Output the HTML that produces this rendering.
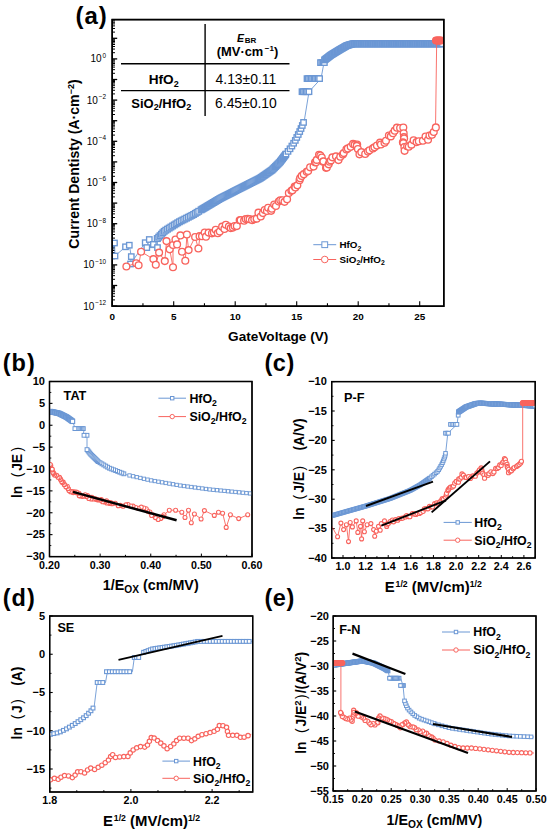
<!DOCTYPE html>
<html><head><meta charset="utf-8"><style>
html,body{margin:0;padding:0;background:#fff;}
svg{display:block;font-family:"Liberation Sans", sans-serif;}
</style></head><body>
<svg width="550" height="835" viewBox="0 0 550 835">
<defs>
<clipPath id="cA"><rect x="112.2" y="19.6" width="331.6" height="286.6"/></clipPath>
<clipPath id="cB"><rect x="49.5" y="381.5" width="202.5" height="175.1"/></clipPath>
<clipPath id="cC"><rect x="331.7" y="381.6" width="203.5" height="176.4"/></clipPath>
<clipPath id="cD"><rect x="49.7" y="616" width="203" height="176"/></clipPath>
<clipPath id="cE"><rect x="333.2" y="616" width="202.8" height="175"/></clipPath>
</defs>
<rect width="550" height="835" fill="#fff"/>
<g>
<rect x="112.2" y="19.6" width="331.6" height="286.6" fill="none" stroke="#000" stroke-width="1.5"/>
<line x1="112.2" y1="306.1" x2="117.2" y2="306.1" stroke="#000" stroke-width="1.3"/>
<line x1="112.2" y1="299.9" x2="115" y2="299.9" stroke="#000" stroke-width="1.0"/>
<line x1="112.2" y1="296.27" x2="115" y2="296.27" stroke="#000" stroke-width="1.0"/>
<line x1="112.2" y1="293.7" x2="115" y2="293.7" stroke="#000" stroke-width="1.0"/>
<line x1="112.2" y1="291.7" x2="115" y2="291.7" stroke="#000" stroke-width="1.0"/>
<line x1="112.2" y1="290.07" x2="115" y2="290.07" stroke="#000" stroke-width="1.0"/>
<line x1="112.2" y1="288.69" x2="115" y2="288.69" stroke="#000" stroke-width="1.0"/>
<line x1="112.2" y1="287.5" x2="115" y2="287.5" stroke="#000" stroke-width="1.0"/>
<line x1="112.2" y1="286.44" x2="115" y2="286.44" stroke="#000" stroke-width="1.0"/>
<line x1="112.2" y1="285.5" x2="117.2" y2="285.5" stroke="#000" stroke-width="1.3"/>
<line x1="112.2" y1="279.3" x2="115" y2="279.3" stroke="#000" stroke-width="1.0"/>
<line x1="112.2" y1="275.67" x2="115" y2="275.67" stroke="#000" stroke-width="1.0"/>
<line x1="112.2" y1="273.1" x2="115" y2="273.1" stroke="#000" stroke-width="1.0"/>
<line x1="112.2" y1="271.1" x2="115" y2="271.1" stroke="#000" stroke-width="1.0"/>
<line x1="112.2" y1="269.47" x2="115" y2="269.47" stroke="#000" stroke-width="1.0"/>
<line x1="112.2" y1="268.09" x2="115" y2="268.09" stroke="#000" stroke-width="1.0"/>
<line x1="112.2" y1="266.9" x2="115" y2="266.9" stroke="#000" stroke-width="1.0"/>
<line x1="112.2" y1="265.84" x2="115" y2="265.84" stroke="#000" stroke-width="1.0"/>
<line x1="112.2" y1="264.9" x2="117.2" y2="264.9" stroke="#000" stroke-width="1.3"/>
<line x1="112.2" y1="258.7" x2="115" y2="258.7" stroke="#000" stroke-width="1.0"/>
<line x1="112.2" y1="255.07" x2="115" y2="255.07" stroke="#000" stroke-width="1.0"/>
<line x1="112.2" y1="252.5" x2="115" y2="252.5" stroke="#000" stroke-width="1.0"/>
<line x1="112.2" y1="250.5" x2="115" y2="250.5" stroke="#000" stroke-width="1.0"/>
<line x1="112.2" y1="248.87" x2="115" y2="248.87" stroke="#000" stroke-width="1.0"/>
<line x1="112.2" y1="247.49" x2="115" y2="247.49" stroke="#000" stroke-width="1.0"/>
<line x1="112.2" y1="246.3" x2="115" y2="246.3" stroke="#000" stroke-width="1.0"/>
<line x1="112.2" y1="245.24" x2="115" y2="245.24" stroke="#000" stroke-width="1.0"/>
<line x1="112.2" y1="244.3" x2="117.2" y2="244.3" stroke="#000" stroke-width="1.3"/>
<line x1="112.2" y1="238.1" x2="115" y2="238.1" stroke="#000" stroke-width="1.0"/>
<line x1="112.2" y1="234.47" x2="115" y2="234.47" stroke="#000" stroke-width="1.0"/>
<line x1="112.2" y1="231.9" x2="115" y2="231.9" stroke="#000" stroke-width="1.0"/>
<line x1="112.2" y1="229.9" x2="115" y2="229.9" stroke="#000" stroke-width="1.0"/>
<line x1="112.2" y1="228.27" x2="115" y2="228.27" stroke="#000" stroke-width="1.0"/>
<line x1="112.2" y1="226.89" x2="115" y2="226.89" stroke="#000" stroke-width="1.0"/>
<line x1="112.2" y1="225.7" x2="115" y2="225.7" stroke="#000" stroke-width="1.0"/>
<line x1="112.2" y1="224.64" x2="115" y2="224.64" stroke="#000" stroke-width="1.0"/>
<line x1="112.2" y1="223.7" x2="117.2" y2="223.7" stroke="#000" stroke-width="1.3"/>
<line x1="112.2" y1="217.5" x2="115" y2="217.5" stroke="#000" stroke-width="1.0"/>
<line x1="112.2" y1="213.87" x2="115" y2="213.87" stroke="#000" stroke-width="1.0"/>
<line x1="112.2" y1="211.3" x2="115" y2="211.3" stroke="#000" stroke-width="1.0"/>
<line x1="112.2" y1="209.3" x2="115" y2="209.3" stroke="#000" stroke-width="1.0"/>
<line x1="112.2" y1="207.67" x2="115" y2="207.67" stroke="#000" stroke-width="1.0"/>
<line x1="112.2" y1="206.29" x2="115" y2="206.29" stroke="#000" stroke-width="1.0"/>
<line x1="112.2" y1="205.1" x2="115" y2="205.1" stroke="#000" stroke-width="1.0"/>
<line x1="112.2" y1="204.04" x2="115" y2="204.04" stroke="#000" stroke-width="1.0"/>
<line x1="112.2" y1="203.1" x2="117.2" y2="203.1" stroke="#000" stroke-width="1.3"/>
<line x1="112.2" y1="196.9" x2="115" y2="196.9" stroke="#000" stroke-width="1.0"/>
<line x1="112.2" y1="193.27" x2="115" y2="193.27" stroke="#000" stroke-width="1.0"/>
<line x1="112.2" y1="190.7" x2="115" y2="190.7" stroke="#000" stroke-width="1.0"/>
<line x1="112.2" y1="188.7" x2="115" y2="188.7" stroke="#000" stroke-width="1.0"/>
<line x1="112.2" y1="187.07" x2="115" y2="187.07" stroke="#000" stroke-width="1.0"/>
<line x1="112.2" y1="185.69" x2="115" y2="185.69" stroke="#000" stroke-width="1.0"/>
<line x1="112.2" y1="184.5" x2="115" y2="184.5" stroke="#000" stroke-width="1.0"/>
<line x1="112.2" y1="183.44" x2="115" y2="183.44" stroke="#000" stroke-width="1.0"/>
<line x1="112.2" y1="182.5" x2="117.2" y2="182.5" stroke="#000" stroke-width="1.3"/>
<line x1="112.2" y1="176.3" x2="115" y2="176.3" stroke="#000" stroke-width="1.0"/>
<line x1="112.2" y1="172.67" x2="115" y2="172.67" stroke="#000" stroke-width="1.0"/>
<line x1="112.2" y1="170.1" x2="115" y2="170.1" stroke="#000" stroke-width="1.0"/>
<line x1="112.2" y1="168.1" x2="115" y2="168.1" stroke="#000" stroke-width="1.0"/>
<line x1="112.2" y1="166.47" x2="115" y2="166.47" stroke="#000" stroke-width="1.0"/>
<line x1="112.2" y1="165.09" x2="115" y2="165.09" stroke="#000" stroke-width="1.0"/>
<line x1="112.2" y1="163.9" x2="115" y2="163.9" stroke="#000" stroke-width="1.0"/>
<line x1="112.2" y1="162.84" x2="115" y2="162.84" stroke="#000" stroke-width="1.0"/>
<line x1="112.2" y1="161.9" x2="117.2" y2="161.9" stroke="#000" stroke-width="1.3"/>
<line x1="112.2" y1="155.7" x2="115" y2="155.7" stroke="#000" stroke-width="1.0"/>
<line x1="112.2" y1="152.07" x2="115" y2="152.07" stroke="#000" stroke-width="1.0"/>
<line x1="112.2" y1="149.5" x2="115" y2="149.5" stroke="#000" stroke-width="1.0"/>
<line x1="112.2" y1="147.5" x2="115" y2="147.5" stroke="#000" stroke-width="1.0"/>
<line x1="112.2" y1="145.87" x2="115" y2="145.87" stroke="#000" stroke-width="1.0"/>
<line x1="112.2" y1="144.49" x2="115" y2="144.49" stroke="#000" stroke-width="1.0"/>
<line x1="112.2" y1="143.3" x2="115" y2="143.3" stroke="#000" stroke-width="1.0"/>
<line x1="112.2" y1="142.24" x2="115" y2="142.24" stroke="#000" stroke-width="1.0"/>
<line x1="112.2" y1="141.3" x2="117.2" y2="141.3" stroke="#000" stroke-width="1.3"/>
<line x1="112.2" y1="135.1" x2="115" y2="135.1" stroke="#000" stroke-width="1.0"/>
<line x1="112.2" y1="131.47" x2="115" y2="131.47" stroke="#000" stroke-width="1.0"/>
<line x1="112.2" y1="128.9" x2="115" y2="128.9" stroke="#000" stroke-width="1.0"/>
<line x1="112.2" y1="126.9" x2="115" y2="126.9" stroke="#000" stroke-width="1.0"/>
<line x1="112.2" y1="125.27" x2="115" y2="125.27" stroke="#000" stroke-width="1.0"/>
<line x1="112.2" y1="123.89" x2="115" y2="123.89" stroke="#000" stroke-width="1.0"/>
<line x1="112.2" y1="122.7" x2="115" y2="122.7" stroke="#000" stroke-width="1.0"/>
<line x1="112.2" y1="121.64" x2="115" y2="121.64" stroke="#000" stroke-width="1.0"/>
<line x1="112.2" y1="120.7" x2="117.2" y2="120.7" stroke="#000" stroke-width="1.3"/>
<line x1="112.2" y1="114.5" x2="115" y2="114.5" stroke="#000" stroke-width="1.0"/>
<line x1="112.2" y1="110.87" x2="115" y2="110.87" stroke="#000" stroke-width="1.0"/>
<line x1="112.2" y1="108.3" x2="115" y2="108.3" stroke="#000" stroke-width="1.0"/>
<line x1="112.2" y1="106.3" x2="115" y2="106.3" stroke="#000" stroke-width="1.0"/>
<line x1="112.2" y1="104.67" x2="115" y2="104.67" stroke="#000" stroke-width="1.0"/>
<line x1="112.2" y1="103.29" x2="115" y2="103.29" stroke="#000" stroke-width="1.0"/>
<line x1="112.2" y1="102.1" x2="115" y2="102.1" stroke="#000" stroke-width="1.0"/>
<line x1="112.2" y1="101.04" x2="115" y2="101.04" stroke="#000" stroke-width="1.0"/>
<line x1="112.2" y1="100.1" x2="117.2" y2="100.1" stroke="#000" stroke-width="1.3"/>
<line x1="112.2" y1="93.9" x2="115" y2="93.9" stroke="#000" stroke-width="1.0"/>
<line x1="112.2" y1="90.27" x2="115" y2="90.27" stroke="#000" stroke-width="1.0"/>
<line x1="112.2" y1="87.7" x2="115" y2="87.7" stroke="#000" stroke-width="1.0"/>
<line x1="112.2" y1="85.7" x2="115" y2="85.7" stroke="#000" stroke-width="1.0"/>
<line x1="112.2" y1="84.07" x2="115" y2="84.07" stroke="#000" stroke-width="1.0"/>
<line x1="112.2" y1="82.69" x2="115" y2="82.69" stroke="#000" stroke-width="1.0"/>
<line x1="112.2" y1="81.5" x2="115" y2="81.5" stroke="#000" stroke-width="1.0"/>
<line x1="112.2" y1="80.44" x2="115" y2="80.44" stroke="#000" stroke-width="1.0"/>
<line x1="112.2" y1="79.5" x2="117.2" y2="79.5" stroke="#000" stroke-width="1.3"/>
<line x1="112.2" y1="73.3" x2="115" y2="73.3" stroke="#000" stroke-width="1.0"/>
<line x1="112.2" y1="69.67" x2="115" y2="69.67" stroke="#000" stroke-width="1.0"/>
<line x1="112.2" y1="67.1" x2="115" y2="67.1" stroke="#000" stroke-width="1.0"/>
<line x1="112.2" y1="65.1" x2="115" y2="65.1" stroke="#000" stroke-width="1.0"/>
<line x1="112.2" y1="63.47" x2="115" y2="63.47" stroke="#000" stroke-width="1.0"/>
<line x1="112.2" y1="62.09" x2="115" y2="62.09" stroke="#000" stroke-width="1.0"/>
<line x1="112.2" y1="60.9" x2="115" y2="60.9" stroke="#000" stroke-width="1.0"/>
<line x1="112.2" y1="59.84" x2="115" y2="59.84" stroke="#000" stroke-width="1.0"/>
<line x1="112.2" y1="58.9" x2="117.2" y2="58.9" stroke="#000" stroke-width="1.3"/>
<line x1="112.2" y1="52.7" x2="115" y2="52.7" stroke="#000" stroke-width="1.0"/>
<line x1="112.2" y1="49.07" x2="115" y2="49.07" stroke="#000" stroke-width="1.0"/>
<line x1="112.2" y1="46.5" x2="115" y2="46.5" stroke="#000" stroke-width="1.0"/>
<line x1="112.2" y1="44.5" x2="115" y2="44.5" stroke="#000" stroke-width="1.0"/>
<line x1="112.2" y1="42.87" x2="115" y2="42.87" stroke="#000" stroke-width="1.0"/>
<line x1="112.2" y1="41.49" x2="115" y2="41.49" stroke="#000" stroke-width="1.0"/>
<line x1="112.2" y1="40.3" x2="115" y2="40.3" stroke="#000" stroke-width="1.0"/>
<line x1="112.2" y1="39.24" x2="115" y2="39.24" stroke="#000" stroke-width="1.0"/>
<line x1="112.2" y1="38.3" x2="117.2" y2="38.3" stroke="#000" stroke-width="1.3"/>
<line x1="112.2" y1="32.1" x2="115" y2="32.1" stroke="#000" stroke-width="1.0"/>
<line x1="112.2" y1="28.47" x2="115" y2="28.47" stroke="#000" stroke-width="1.0"/>
<line x1="112.2" y1="25.9" x2="115" y2="25.9" stroke="#000" stroke-width="1.0"/>
<line x1="112.2" y1="23.9" x2="115" y2="23.9" stroke="#000" stroke-width="1.0"/>
<line x1="112.2" y1="22.27" x2="115" y2="22.27" stroke="#000" stroke-width="1.0"/>
<line x1="112.2" y1="20.89" x2="115" y2="20.89" stroke="#000" stroke-width="1.0"/>
<line x1="112.2" y1="306.2" x2="112.2" y2="301.2" stroke="#000" stroke-width="1.1"/>
<line x1="142.95" y1="306.2" x2="142.95" y2="303.2" stroke="#000" stroke-width="1.1"/>
<line x1="173.7" y1="306.2" x2="173.7" y2="301.2" stroke="#000" stroke-width="1.1"/>
<line x1="204.45" y1="306.2" x2="204.45" y2="303.2" stroke="#000" stroke-width="1.1"/>
<line x1="235.2" y1="306.2" x2="235.2" y2="301.2" stroke="#000" stroke-width="1.1"/>
<line x1="265.95" y1="306.2" x2="265.95" y2="303.2" stroke="#000" stroke-width="1.1"/>
<line x1="296.7" y1="306.2" x2="296.7" y2="301.2" stroke="#000" stroke-width="1.1"/>
<line x1="327.45" y1="306.2" x2="327.45" y2="303.2" stroke="#000" stroke-width="1.1"/>
<line x1="358.2" y1="306.2" x2="358.2" y2="301.2" stroke="#000" stroke-width="1.1"/>
<line x1="388.95" y1="306.2" x2="388.95" y2="303.2" stroke="#000" stroke-width="1.1"/>
<line x1="419.7" y1="306.2" x2="419.7" y2="301.2" stroke="#000" stroke-width="1.1"/>
<text x="112.2" y="320" font-size="9.9" text-anchor="middle" font-weight="bold" >0</text>
<text x="173.7" y="320" font-size="9.9" text-anchor="middle" font-weight="bold" >5</text>
<text x="235.2" y="320" font-size="9.9" text-anchor="middle" font-weight="bold" >10</text>
<text x="296.7" y="320" font-size="9.9" text-anchor="middle" font-weight="bold" >15</text>
<text x="358.2" y="320" font-size="9.9" text-anchor="middle" font-weight="bold" >20</text>
<text x="419.7" y="320" font-size="9.9" text-anchor="middle" font-weight="bold" >25</text>
<text x="106" y="62.4" font-size="10" text-anchor="end" font-weight="normal">10<tspan dy="-4.6" dx="0.8" font-size="6.4">0</tspan></text>
<text x="106" y="103.6" font-size="10" text-anchor="end" font-weight="normal">10<tspan dy="-4.6" dx="0.8" font-size="6.4">&#8722;2</tspan></text>
<text x="106" y="144.8" font-size="10" text-anchor="end" font-weight="normal">10<tspan dy="-4.6" dx="0.8" font-size="6.4">&#8722;4</tspan></text>
<text x="106" y="186" font-size="10" text-anchor="end" font-weight="normal">10<tspan dy="-4.6" dx="0.8" font-size="6.4">&#8722;6</tspan></text>
<text x="106" y="227.2" font-size="10" text-anchor="end" font-weight="normal">10<tspan dy="-4.6" dx="0.8" font-size="6.4">&#8722;8</tspan></text>
<text x="106" y="268.4" font-size="10" text-anchor="end" font-weight="normal">10<tspan dy="-4.6" dx="0.8" font-size="6.4">&#8722;10</tspan></text>
<text x="106" y="309.6" font-size="10" text-anchor="end" font-weight="normal">10<tspan dy="-4.6" dx="0.8" font-size="6.4">&#8722;12</tspan></text>
<text x="278.2" y="340.7" font-size="13.6" text-anchor="middle" font-weight="bold" >GateVoltage (V)</text>
<text transform="translate(78.5,164) rotate(-90)" font-size="14.1" text-anchor="middle" font-weight="bold">Current Dentisty (A&#183;cm<tspan dy="-5" font-size="9">&#8722;2</tspan><tspan dy="5">)</tspan></text>
<text x="75.5" y="24.3" font-size="24" text-anchor="start" font-weight="bold" letter-spacing="1">(a)</text>
<line x1="205.1" y1="24" x2="205.1" y2="116" stroke="#000" stroke-width="1.4"/>
<line x1="121" y1="63.7" x2="289.5" y2="63.7" stroke="#000" stroke-width="1.4"/>
<line x1="121" y1="90.6" x2="289.5" y2="90.6" stroke="#000" stroke-width="1.4"/>
<text x="237" y="41.8" font-size="10.5" font-weight="bold" font-style="italic">E<tspan dy="1.5" dx="0.8" font-size="8" font-style="normal">BR</tspan></text>
<text x="247.5" y="55.6" font-size="12.9" font-weight="bold" text-anchor="middle">(MV&#183;cm<tspan dy="-5" dx="1.5" font-size="8">&#8722;1</tspan><tspan dy="5">)</tspan></text>
<text x="163.7" y="83.9" font-size="13.6" font-weight="bold" text-anchor="middle">HfO<tspan dy="2.8" font-size="9">2</tspan></text>
<text x="161.2" y="107.5" font-size="13" font-weight="bold" text-anchor="middle">SiO<tspan dy="2.8" font-size="9">2</tspan><tspan dy="-2.8">/HfO</tspan><tspan dy="2.8" font-size="9">2</tspan></text>
<text x="245.9" y="83.9" font-size="13.9" text-anchor="middle" font-weight="normal" >4.13&#177;0.11</text>
<text x="245.9" y="108" font-size="13.9" text-anchor="middle" font-weight="normal" >6.45&#177;0.10</text>
</g>
<line x1="313.3" y1="244.7" x2="336.2" y2="244.7" stroke="#6b97d4" stroke-width="1.0"/>
<g fill="#fff" stroke="#6b97d4" stroke-width="1.0"><rect x="321.85" y="241.8" width="5.8" height="5.8"/></g>
<line x1="313.3" y1="259.5" x2="336.2" y2="259.5" stroke="#f8645e" stroke-width="1.0"/>
<g fill="#fff" stroke="#f8645e" stroke-width="1.0"><circle cx="324.75" cy="259.5" r="3.3"/></g>
<text x="339.5" y="248.23" font-size="9.8" font-weight="bold">HfO<tspan dy="2.45" font-size="6.86">2</tspan></text>
<text x="339.5" y="263.03" font-size="9.8" font-weight="bold">SiO<tspan dy="2.45" font-size="6.86">2</tspan><tspan dy="-2.45">/HfO</tspan><tspan dy="2.45" font-size="6.86">2</tspan></text>
<g clip-path="url(#cA)">
<polyline fill="none" stroke="#6b97d4" stroke-width="0.9" points="112.5,250 114.5,243 115,256 125.5,246.8 129.3,245.2 131.3,256.6 130.5,264 145.2,242.7 149.3,239.5 153.4,244.4 146.8,247.6 157.5,247.6 157.3,238.6 157.3,238.6 164.5,231 179,222 193.6,214.5 200,210.5 220,198.6 240,188.4 260,178.3 272,170 280,162 286,154 286,154 291,147.5 295,141 300,131 304.3,120.6"/>
<g fill="#fff" stroke="#6b97d4" stroke-width="1.35"><rect x="111.8" y="240.3" width="5.4" height="5.4"/><rect x="112.3" y="253.3" width="5.4" height="5.4"/><rect x="122.8" y="244.1" width="5.4" height="5.4"/><rect x="126.6" y="242.5" width="5.4" height="5.4"/><rect x="128.6" y="253.9" width="5.4" height="5.4"/><rect x="127.8" y="261.3" width="5.4" height="5.4"/><rect x="142.5" y="240" width="5.4" height="5.4"/><rect x="146.6" y="236.8" width="5.4" height="5.4"/><rect x="150.7" y="241.7" width="5.4" height="5.4"/><rect x="144.1" y="244.9" width="5.4" height="5.4"/><rect x="154.8" y="244.9" width="5.4" height="5.4"/><rect x="154.6" y="235.9" width="5.4" height="5.4"/></g>
<g fill="#fff" stroke="#6b97d4" stroke-width="1.35"><rect x="154.5" y="235.8" width="5.6" height="5.6"/><rect x="155.88" y="234.35" width="5.6" height="5.6"/><rect x="157.25" y="232.9" width="5.6" height="5.6"/><rect x="158.63" y="231.44" width="5.6" height="5.6"/><rect x="160" y="229.99" width="5.6" height="5.6"/><rect x="161.38" y="228.54" width="5.6" height="5.6"/><rect x="163" y="227.39" width="5.6" height="5.6"/><rect x="164.7" y="226.34" width="5.6" height="5.6"/><rect x="166.4" y="225.28" width="5.6" height="5.6"/><rect x="168.1" y="224.23" width="5.6" height="5.6"/><rect x="169.8" y="223.17" width="5.6" height="5.6"/><rect x="171.5" y="222.12" width="5.6" height="5.6"/><rect x="173.2" y="221.06" width="5.6" height="5.6"/><rect x="174.9" y="220.01" width="5.6" height="5.6"/><rect x="176.61" y="218.99" width="5.6" height="5.6"/><rect x="178.39" y="218.07" width="5.6" height="5.6"/><rect x="180.17" y="217.16" width="5.6" height="5.6"/><rect x="181.95" y="216.25" width="5.6" height="5.6"/><rect x="183.73" y="215.33" width="5.6" height="5.6"/><rect x="185.51" y="214.42" width="5.6" height="5.6"/><rect x="187.29" y="213.5" width="5.6" height="5.6"/><rect x="189.07" y="212.59" width="5.6" height="5.6"/><rect x="190.84" y="211.67" width="5.6" height="5.6"/><rect x="192.54" y="210.61" width="5.6" height="5.6"/><rect x="194.24" y="209.55" width="5.6" height="5.6"/><rect x="195.93" y="208.49" width="5.6" height="5.6"/><rect x="198.23" y="207.09" width="5.6" height="5.6"/><rect x="199.26" y="206.47" width="5.6" height="5.6"/><rect x="200.29" y="205.86" width="5.6" height="5.6"/><rect x="201.33" y="205.25" width="5.6" height="5.6"/><rect x="202.36" y="204.63" width="5.6" height="5.6"/><rect x="203.39" y="204.02" width="5.6" height="5.6"/><rect x="204.42" y="203.4" width="5.6" height="5.6"/><rect x="205.45" y="202.79" width="5.6" height="5.6"/><rect x="206.48" y="202.18" width="5.6" height="5.6"/><rect x="207.51" y="201.56" width="5.6" height="5.6"/><rect x="208.54" y="200.95" width="5.6" height="5.6"/><rect x="209.58" y="200.34" width="5.6" height="5.6"/><rect x="210.61" y="199.72" width="5.6" height="5.6"/><rect x="211.64" y="199.11" width="5.6" height="5.6"/><rect x="212.67" y="198.5" width="5.6" height="5.6"/><rect x="213.7" y="197.88" width="5.6" height="5.6"/><rect x="214.73" y="197.27" width="5.6" height="5.6"/><rect x="215.76" y="196.66" width="5.6" height="5.6"/><rect x="216.79" y="196.04" width="5.6" height="5.6"/><rect x="217.85" y="195.47" width="5.6" height="5.6"/><rect x="218.92" y="194.92" width="5.6" height="5.6"/><rect x="219.99" y="194.38" width="5.6" height="5.6"/><rect x="221.06" y="193.83" width="5.6" height="5.6"/><rect x="222.12" y="193.29" width="5.6" height="5.6"/><rect x="223.19" y="192.74" width="5.6" height="5.6"/><rect x="224.26" y="192.2" width="5.6" height="5.6"/><rect x="225.33" y="191.65" width="5.6" height="5.6"/><rect x="226.4" y="191.11" width="5.6" height="5.6"/><rect x="227.47" y="190.56" width="5.6" height="5.6"/><rect x="228.54" y="190.02" width="5.6" height="5.6"/><rect x="229.61" y="189.47" width="5.6" height="5.6"/><rect x="230.68" y="188.93" width="5.6" height="5.6"/><rect x="231.75" y="188.38" width="5.6" height="5.6"/><rect x="232.81" y="187.84" width="5.6" height="5.6"/><rect x="233.88" y="187.29" width="5.6" height="5.6"/><rect x="234.95" y="186.75" width="5.6" height="5.6"/><rect x="236.02" y="186.2" width="5.6" height="5.6"/><rect x="237.09" y="185.66" width="5.6" height="5.6"/><rect x="238.16" y="185.11" width="5.6" height="5.6"/><rect x="239.23" y="184.57" width="5.6" height="5.6"/><rect x="240.3" y="184.03" width="5.6" height="5.6"/><rect x="241.37" y="183.49" width="5.6" height="5.6"/><rect x="242.45" y="182.95" width="5.6" height="5.6"/><rect x="243.52" y="182.41" width="5.6" height="5.6"/><rect x="244.59" y="181.87" width="5.6" height="5.6"/><rect x="245.66" y="181.33" width="5.6" height="5.6"/><rect x="246.73" y="180.79" width="5.6" height="5.6"/><rect x="247.8" y="180.25" width="5.6" height="5.6"/><rect x="248.87" y="179.71" width="5.6" height="5.6"/><rect x="249.94" y="179.16" width="5.6" height="5.6"/><rect x="251.01" y="178.62" width="5.6" height="5.6"/><rect x="252.09" y="178.08" width="5.6" height="5.6"/><rect x="253.16" y="177.54" width="5.6" height="5.6"/><rect x="254.23" y="177" width="5.6" height="5.6"/><rect x="255.3" y="176.46" width="5.6" height="5.6"/><rect x="256.37" y="175.92" width="5.6" height="5.6"/><rect x="257.42" y="175.35" width="5.6" height="5.6"/><rect x="258.41" y="174.66" width="5.6" height="5.6"/><rect x="259.4" y="173.98" width="5.6" height="5.6"/><rect x="260.38" y="173.3" width="5.6" height="5.6"/><rect x="261.37" y="172.62" width="5.6" height="5.6"/><rect x="262.36" y="171.93" width="5.6" height="5.6"/><rect x="263.34" y="171.25" width="5.6" height="5.6"/><rect x="264.33" y="170.57" width="5.6" height="5.6"/><rect x="265.32" y="169.88" width="5.6" height="5.6"/><rect x="266.31" y="169.2" width="5.6" height="5.6"/><rect x="267.29" y="168.52" width="5.6" height="5.6"/><rect x="268.28" y="167.84" width="5.6" height="5.6"/><rect x="269.26" y="167.14" width="5.6" height="5.6"/><rect x="270.11" y="166.29" width="5.6" height="5.6"/><rect x="270.95" y="165.45" width="5.6" height="5.6"/><rect x="271.8" y="164.6" width="5.6" height="5.6"/><rect x="272.65" y="163.75" width="5.6" height="5.6"/><rect x="273.5" y="162.9" width="5.6" height="5.6"/><rect x="274.35" y="162.05" width="5.6" height="5.6"/><rect x="275.2" y="161.2" width="5.6" height="5.6"/><rect x="276.05" y="160.35" width="5.6" height="5.6"/><rect x="276.89" y="159.51" width="5.6" height="5.6"/><rect x="277.66" y="158.59" width="5.6" height="5.6"/><rect x="278.38" y="157.63" width="5.6" height="5.6"/><rect x="279.1" y="156.67" width="5.6" height="5.6"/><rect x="279.82" y="155.71" width="5.6" height="5.6"/><rect x="280.54" y="154.75" width="5.6" height="5.6"/><rect x="281.26" y="153.79" width="5.6" height="5.6"/><rect x="281.98" y="152.83" width="5.6" height="5.6"/><rect x="282.7" y="151.87" width="5.6" height="5.6"/></g>
<g fill="#fff" stroke="#6b97d4" stroke-width="1.35"><rect x="283.3" y="151.3" width="5.4" height="5.4"/><rect x="285.31" y="148.68" width="5.4" height="5.4"/><rect x="287.32" y="146.07" width="5.4" height="5.4"/><rect x="289.19" y="143.35" width="5.4" height="5.4"/><rect x="290.92" y="140.54" width="5.4" height="5.4"/><rect x="292.6" y="137.7" width="5.4" height="5.4"/><rect x="294.07" y="134.75" width="5.4" height="5.4"/><rect x="295.55" y="131.8" width="5.4" height="5.4"/><rect x="297.03" y="128.85" width="5.4" height="5.4"/><rect x="298.33" y="125.82" width="5.4" height="5.4"/><rect x="299.59" y="122.77" width="5.4" height="5.4"/><rect x="300.85" y="119.72" width="5.4" height="5.4"/></g>
<polyline fill="none" stroke="#6b97d4" stroke-width="0.9" points="304.3,120.6 309,91.7 321,78.6 324,62.6"/>
<g fill="#fff" stroke="#6b97d4" stroke-width="1.35"><rect x="299.3" y="89" width="5.4" height="5.4"/><rect x="300.7" y="89" width="5.4" height="5.4"/><rect x="302.1" y="89" width="5.4" height="5.4"/><rect x="303.5" y="89" width="5.4" height="5.4"/><rect x="304.9" y="89" width="5.4" height="5.4"/><rect x="306.3" y="89" width="5.4" height="5.4"/></g>
<g fill="#fff" stroke="#6b97d4" stroke-width="1.35"><rect x="304.3" y="75.9" width="5.4" height="5.4"/><rect x="305.7" y="75.9" width="5.4" height="5.4"/><rect x="307.1" y="75.9" width="5.4" height="5.4"/><rect x="308.5" y="75.9" width="5.4" height="5.4"/><rect x="309.9" y="75.9" width="5.4" height="5.4"/><rect x="311.3" y="75.9" width="5.4" height="5.4"/><rect x="312.7" y="75.9" width="5.4" height="5.4"/><rect x="314.1" y="75.9" width="5.4" height="5.4"/><rect x="315.5" y="75.9" width="5.4" height="5.4"/><rect x="316.9" y="75.9" width="5.4" height="5.4"/></g>
<g fill="#fff" stroke="#6b97d4" stroke-width="1.35"><rect x="317.8" y="59.9" width="5.4" height="5.4"/><rect x="319.1" y="59.9" width="5.4" height="5.4"/><rect x="320.4" y="59.9" width="5.4" height="5.4"/><rect x="321.7" y="59.9" width="5.4" height="5.4"/></g>
<g fill="#fff" stroke="#6b97d4" stroke-width="1.35"><rect x="321.8" y="57.3" width="5.4" height="5.4"/><rect x="322.35" y="56.87" width="5.4" height="5.4"/><rect x="322.91" y="56.45" width="5.4" height="5.4"/><rect x="323.46" y="56.02" width="5.4" height="5.4"/><rect x="324.02" y="55.59" width="5.4" height="5.4"/><rect x="324.57" y="55.17" width="5.4" height="5.4"/><rect x="325.13" y="54.74" width="5.4" height="5.4"/><rect x="325.68" y="54.31" width="5.4" height="5.4"/><rect x="326.24" y="53.89" width="5.4" height="5.4"/><rect x="326.79" y="53.46" width="5.4" height="5.4"/><rect x="327.35" y="53.03" width="5.4" height="5.4"/><rect x="327.9" y="52.61" width="5.4" height="5.4"/><rect x="328.47" y="52.2" width="5.4" height="5.4"/><rect x="329.07" y="51.83" width="5.4" height="5.4"/><rect x="329.66" y="51.47" width="5.4" height="5.4"/><rect x="330.26" y="51.1" width="5.4" height="5.4"/><rect x="330.86" y="50.74" width="5.4" height="5.4"/><rect x="331.46" y="50.37" width="5.4" height="5.4"/><rect x="332.05" y="50.01" width="5.4" height="5.4"/><rect x="332.65" y="49.64" width="5.4" height="5.4"/><rect x="333.25" y="49.28" width="5.4" height="5.4"/><rect x="333.85" y="48.91" width="5.4" height="5.4"/><rect x="334.44" y="48.55" width="5.4" height="5.4"/><rect x="335.04" y="48.18" width="5.4" height="5.4"/><rect x="335.64" y="47.82" width="5.4" height="5.4"/><rect x="336.24" y="47.45" width="5.4" height="5.4"/><rect x="336.83" y="47.09" width="5.4" height="5.4"/><rect x="337.43" y="46.72" width="5.4" height="5.4"/><rect x="338.04" y="46.38" width="5.4" height="5.4"/><rect x="338.65" y="46.03" width="5.4" height="5.4"/><rect x="339.26" y="45.68" width="5.4" height="5.4"/><rect x="339.86" y="45.34" width="5.4" height="5.4"/><rect x="340.47" y="44.99" width="5.4" height="5.4"/><rect x="341.08" y="44.64" width="5.4" height="5.4"/><rect x="341.69" y="44.29" width="5.4" height="5.4"/><rect x="342.29" y="43.95" width="5.4" height="5.4"/><rect x="342.9" y="43.6" width="5.4" height="5.4"/><rect x="343.51" y="43.25" width="5.4" height="5.4"/><rect x="344.12" y="42.9" width="5.4" height="5.4"/><rect x="344.77" y="42.67" width="5.4" height="5.4"/><rect x="345.44" y="42.48" width="5.4" height="5.4"/><rect x="346.12" y="42.28" width="5.4" height="5.4"/><rect x="346.79" y="42.09" width="5.4" height="5.4"/><rect x="347.47" y="41.9" width="5.4" height="5.4"/><rect x="348.14" y="41.71" width="5.4" height="5.4"/><rect x="348.81" y="41.52" width="5.4" height="5.4"/><rect x="349.49" y="41.33" width="5.4" height="5.4"/><rect x="350.16" y="41.14" width="5.4" height="5.4"/><rect x="350.85" y="41.1" width="5.4" height="5.4"/><rect x="351.55" y="41.1" width="5.4" height="5.4"/><rect x="352.25" y="41.1" width="5.4" height="5.4"/><rect x="352.95" y="41.1" width="5.4" height="5.4"/><rect x="353.65" y="41.1" width="5.4" height="5.4"/><rect x="354.35" y="41.1" width="5.4" height="5.4"/><rect x="355.05" y="41.1" width="5.4" height="5.4"/><rect x="355.75" y="41.1" width="5.4" height="5.4"/><rect x="356.45" y="41.1" width="5.4" height="5.4"/><rect x="357.15" y="41.1" width="5.4" height="5.4"/><rect x="357.85" y="41.1" width="5.4" height="5.4"/><rect x="358.55" y="41.1" width="5.4" height="5.4"/><rect x="359.25" y="41.1" width="5.4" height="5.4"/><rect x="359.95" y="41.1" width="5.4" height="5.4"/><rect x="360.65" y="41.1" width="5.4" height="5.4"/><rect x="361.35" y="41.1" width="5.4" height="5.4"/><rect x="362.05" y="41.1" width="5.4" height="5.4"/><rect x="362.75" y="41.1" width="5.4" height="5.4"/><rect x="363.45" y="41.1" width="5.4" height="5.4"/><rect x="364.15" y="41.1" width="5.4" height="5.4"/><rect x="364.85" y="41.1" width="5.4" height="5.4"/><rect x="365.55" y="41.1" width="5.4" height="5.4"/><rect x="366.25" y="41.1" width="5.4" height="5.4"/><rect x="366.95" y="41.1" width="5.4" height="5.4"/><rect x="367.65" y="41.1" width="5.4" height="5.4"/><rect x="368.35" y="41.1" width="5.4" height="5.4"/><rect x="369.05" y="41.1" width="5.4" height="5.4"/><rect x="369.75" y="41.1" width="5.4" height="5.4"/><rect x="370.45" y="41.1" width="5.4" height="5.4"/><rect x="371.15" y="41.1" width="5.4" height="5.4"/><rect x="371.85" y="41.1" width="5.4" height="5.4"/><rect x="372.55" y="41.1" width="5.4" height="5.4"/><rect x="373.25" y="41.1" width="5.4" height="5.4"/><rect x="373.95" y="41.1" width="5.4" height="5.4"/><rect x="374.65" y="41.1" width="5.4" height="5.4"/><rect x="375.35" y="41.1" width="5.4" height="5.4"/><rect x="376.05" y="41.1" width="5.4" height="5.4"/><rect x="376.75" y="41.1" width="5.4" height="5.4"/><rect x="377.45" y="41.1" width="5.4" height="5.4"/><rect x="378.15" y="41.1" width="5.4" height="5.4"/><rect x="378.85" y="41.1" width="5.4" height="5.4"/><rect x="379.55" y="41.1" width="5.4" height="5.4"/><rect x="380.25" y="41.1" width="5.4" height="5.4"/><rect x="380.95" y="41.1" width="5.4" height="5.4"/><rect x="381.65" y="41.1" width="5.4" height="5.4"/><rect x="382.35" y="41.1" width="5.4" height="5.4"/><rect x="383.05" y="41.1" width="5.4" height="5.4"/><rect x="383.75" y="41.1" width="5.4" height="5.4"/><rect x="384.45" y="41.1" width="5.4" height="5.4"/><rect x="385.15" y="41.1" width="5.4" height="5.4"/><rect x="385.85" y="41.1" width="5.4" height="5.4"/><rect x="386.55" y="41.1" width="5.4" height="5.4"/><rect x="387.25" y="41.1" width="5.4" height="5.4"/><rect x="387.95" y="41.1" width="5.4" height="5.4"/><rect x="388.65" y="41.1" width="5.4" height="5.4"/><rect x="389.35" y="41.1" width="5.4" height="5.4"/><rect x="390.05" y="41.1" width="5.4" height="5.4"/><rect x="390.75" y="41.1" width="5.4" height="5.4"/><rect x="391.45" y="41.1" width="5.4" height="5.4"/><rect x="392.15" y="41.1" width="5.4" height="5.4"/><rect x="392.85" y="41.1" width="5.4" height="5.4"/><rect x="393.55" y="41.1" width="5.4" height="5.4"/><rect x="394.25" y="41.1" width="5.4" height="5.4"/><rect x="394.95" y="41.1" width="5.4" height="5.4"/><rect x="395.65" y="41.1" width="5.4" height="5.4"/><rect x="396.35" y="41.1" width="5.4" height="5.4"/><rect x="397.05" y="41.1" width="5.4" height="5.4"/><rect x="397.75" y="41.1" width="5.4" height="5.4"/><rect x="398.45" y="41.1" width="5.4" height="5.4"/><rect x="399.15" y="41.1" width="5.4" height="5.4"/><rect x="399.85" y="41.1" width="5.4" height="5.4"/><rect x="400.55" y="41.1" width="5.4" height="5.4"/><rect x="401.25" y="41.1" width="5.4" height="5.4"/><rect x="401.95" y="41.1" width="5.4" height="5.4"/><rect x="402.65" y="41.1" width="5.4" height="5.4"/><rect x="403.35" y="41.1" width="5.4" height="5.4"/><rect x="404.05" y="41.1" width="5.4" height="5.4"/><rect x="404.75" y="41.1" width="5.4" height="5.4"/><rect x="405.45" y="41.1" width="5.4" height="5.4"/><rect x="406.15" y="41.1" width="5.4" height="5.4"/><rect x="406.85" y="41.1" width="5.4" height="5.4"/><rect x="407.55" y="41.1" width="5.4" height="5.4"/><rect x="408.25" y="41.1" width="5.4" height="5.4"/><rect x="408.95" y="41.1" width="5.4" height="5.4"/><rect x="409.65" y="41.1" width="5.4" height="5.4"/><rect x="410.35" y="41.1" width="5.4" height="5.4"/><rect x="411.05" y="41.1" width="5.4" height="5.4"/><rect x="411.75" y="41.1" width="5.4" height="5.4"/><rect x="412.45" y="41.1" width="5.4" height="5.4"/><rect x="413.15" y="41.1" width="5.4" height="5.4"/><rect x="413.85" y="41.1" width="5.4" height="5.4"/><rect x="414.55" y="41.1" width="5.4" height="5.4"/><rect x="415.25" y="41.1" width="5.4" height="5.4"/><rect x="415.95" y="41.1" width="5.4" height="5.4"/><rect x="416.65" y="41.1" width="5.4" height="5.4"/><rect x="417.35" y="41.1" width="5.4" height="5.4"/><rect x="418.05" y="41.1" width="5.4" height="5.4"/><rect x="418.75" y="41.1" width="5.4" height="5.4"/><rect x="419.45" y="41.1" width="5.4" height="5.4"/><rect x="420.15" y="41.1" width="5.4" height="5.4"/><rect x="420.85" y="41.1" width="5.4" height="5.4"/><rect x="421.55" y="41.1" width="5.4" height="5.4"/><rect x="422.25" y="41.1" width="5.4" height="5.4"/><rect x="422.95" y="41.1" width="5.4" height="5.4"/><rect x="423.65" y="41.1" width="5.4" height="5.4"/><rect x="424.35" y="41.1" width="5.4" height="5.4"/><rect x="425.05" y="41.1" width="5.4" height="5.4"/><rect x="425.75" y="41.1" width="5.4" height="5.4"/><rect x="426.45" y="41.1" width="5.4" height="5.4"/><rect x="427.15" y="41.1" width="5.4" height="5.4"/><rect x="427.85" y="41.1" width="5.4" height="5.4"/><rect x="428.55" y="41.1" width="5.4" height="5.4"/><rect x="429.25" y="41.1" width="5.4" height="5.4"/><rect x="429.95" y="41.1" width="5.4" height="5.4"/><rect x="430.65" y="41.1" width="5.4" height="5.4"/><rect x="431.35" y="41.1" width="5.4" height="5.4"/><rect x="432.05" y="41.1" width="5.4" height="5.4"/><rect x="432.75" y="41.1" width="5.4" height="5.4"/><rect x="433.45" y="41.1" width="5.4" height="5.4"/><rect x="434.15" y="41.1" width="5.4" height="5.4"/><rect x="434.85" y="41.1" width="5.4" height="5.4"/><rect x="435.55" y="41.1" width="5.4" height="5.4"/><rect x="436.25" y="41.1" width="5.4" height="5.4"/><rect x="436.95" y="41.1" width="5.4" height="5.4"/><rect x="437.65" y="41.1" width="5.4" height="5.4"/><rect x="438.35" y="41.1" width="5.4" height="5.4"/><rect x="439.05" y="41.1" width="5.4" height="5.4"/><rect x="439.75" y="41.1" width="5.4" height="5.4"/></g>
<polyline fill="none" stroke="#f8645e" stroke-width="0.9" points="126.4,266.5 136.2,263.2 138.6,265.3 141.1,251.7 153.4,259.1 155.8,264.8 159.1,252.6 164.8,261.1 166.5,241.1 169.7,249.3 173,267.3 173,245 175.5,239.5 180.4,235.4 177.1,244.4 182,251.7 185.3,260.7 186.9,234.5 188.6,250.1 195.1,237 198.4,248.5 200,236"/>
<g fill="#fff" stroke="#f8645e" stroke-width="1.35"><circle cx="126.4" cy="266.5" r="3.4"/><circle cx="136.2" cy="263.2" r="3.4"/><circle cx="138.6" cy="265.3" r="3.4"/><circle cx="141.1" cy="251.7" r="3.4"/><circle cx="153.4" cy="259.1" r="3.4"/><circle cx="155.8" cy="264.8" r="3.4"/><circle cx="159.1" cy="252.6" r="3.4"/><circle cx="164.8" cy="261.1" r="3.4"/><circle cx="166.5" cy="241.1" r="3.4"/><circle cx="169.7" cy="249.3" r="3.4"/><circle cx="173" cy="267.3" r="3.4"/><circle cx="173" cy="245" r="3.4"/><circle cx="175.5" cy="239.5" r="3.4"/><circle cx="180.4" cy="235.4" r="3.4"/><circle cx="177.1" cy="244.4" r="3.4"/><circle cx="182" cy="251.7" r="3.4"/><circle cx="185.3" cy="260.7" r="3.4"/><circle cx="186.9" cy="234.5" r="3.4"/><circle cx="188.6" cy="250.1" r="3.4"/><circle cx="195.1" cy="237" r="3.4"/><circle cx="198.4" cy="248.5" r="3.4"/><circle cx="200" cy="236" r="3.4"/></g>
<polyline fill="none" stroke="#f8645e" stroke-width="0.9" points="200,236 210,234 230,226 250,218.6 270,209 285,199 291.5,192.7 297.3,184 301.6,175.3 308.9,169.5 314.7,165 319.8,154.9 323.5,162.2 327.1,168 332.2,157.8 339.5,159.3 345.3,152 351.1,146.2 356.2,143.3 358.4,152.7 364.2,153.5 370,151.3 373.7,148.5 382.5,141.9 389.7,135.4 398.5,128.8 402.8,129.5 404.3,149.2 408.6,145.5 414.5,141.2 420.3,139.7 427.5,138.3 431.9,135.4 435.5,129.5 436.7,40.5"/>
<g fill="#fff" stroke="#f8645e" stroke-width="1.35"><circle cx="199.58" cy="236.27" r="3.4"/><circle cx="202.05" cy="236.17" r="3.4"/><circle cx="204.71" cy="232.49" r="3.4"/><circle cx="205.99" cy="236.67" r="3.4"/><circle cx="208.64" cy="232.6" r="3.4"/><circle cx="212" cy="233.34" r="3.4"/><circle cx="213.88" cy="232.52" r="3.4"/><circle cx="215.7" cy="229.71" r="3.4"/><circle cx="217.83" cy="233.16" r="3.4"/><circle cx="219.79" cy="231.55" r="3.4"/><circle cx="222.16" cy="226.63" r="3.4"/><circle cx="224.43" cy="228.94" r="3.4"/><circle cx="225.84" cy="224.72" r="3.4"/><circle cx="228.88" cy="226.52" r="3.4"/><circle cx="230.78" cy="228.11" r="3.4"/><circle cx="232.93" cy="227.57" r="3.4"/><circle cx="234.58" cy="226.05" r="3.4"/><circle cx="236.82" cy="226.06" r="3.4"/><circle cx="239.67" cy="220.23" r="3.4"/><circle cx="240.64" cy="220.15" r="3.4"/><circle cx="244.12" cy="220.67" r="3.4"/><circle cx="245.73" cy="219.06" r="3.4"/><circle cx="247.7" cy="218.77" r="3.4"/><circle cx="249.61" cy="219.17" r="3.4"/><circle cx="252.06" cy="220.1" r="3.4"/><circle cx="254.29" cy="219.25" r="3.4"/><circle cx="256.64" cy="218.63" r="3.4"/><circle cx="258.42" cy="212.67" r="3.4"/><circle cx="260.8" cy="216.48" r="3.4"/><circle cx="262.94" cy="213.11" r="3.4"/><circle cx="264.71" cy="209.97" r="3.4"/><circle cx="266.97" cy="211.04" r="3.4"/><circle cx="268.17" cy="207.75" r="3.4"/><circle cx="271.11" cy="210.84" r="3.4"/><circle cx="271.8" cy="208.72" r="3.4"/><circle cx="274.23" cy="204.52" r="3.4"/><circle cx="275.95" cy="206.02" r="3.4"/><circle cx="278.79" cy="201.48" r="3.4"/><circle cx="280.29" cy="200.21" r="3.4"/><circle cx="282.37" cy="200.22" r="3.4"/><circle cx="284.55" cy="201.87" r="3.4"/><circle cx="287.09" cy="199.22" r="3.4"/><circle cx="288.86" cy="193.06" r="3.4"/><circle cx="291.41" cy="190.84" r="3.4"/><circle cx="292.43" cy="190.17" r="3.4"/><circle cx="294.7" cy="186.62" r="3.4"/><circle cx="295.4" cy="187.41" r="3.4"/><circle cx="297.35" cy="185.35" r="3.4"/><circle cx="299.57" cy="180.14" r="3.4"/><circle cx="300.16" cy="178.18" r="3.4"/><circle cx="301.74" cy="175.92" r="3.4"/><circle cx="303.8" cy="174.17" r="3.4"/><circle cx="306.68" cy="171.86" r="3.4"/><circle cx="308.14" cy="171.01" r="3.4"/><circle cx="310.11" cy="167.34" r="3.4"/><circle cx="313.59" cy="166.55" r="3.4"/><circle cx="315.01" cy="162.34" r="3.4"/><circle cx="316.11" cy="162.3" r="3.4"/><circle cx="316.78" cy="159.88" r="3.4"/><circle cx="319.07" cy="154.79" r="3.4"/><circle cx="320.37" cy="155.47" r="3.4"/><circle cx="321.76" cy="157.54" r="3.4"/><circle cx="323.12" cy="161.87" r="3.4"/><circle cx="323.43" cy="161.35" r="3.4"/><circle cx="326.01" cy="167.87" r="3.4"/><circle cx="326.83" cy="167.54" r="3.4"/><circle cx="328.68" cy="164.33" r="3.4"/><circle cx="329.61" cy="161.7" r="3.4"/><circle cx="330.91" cy="160.38" r="3.4"/><circle cx="332.36" cy="157.35" r="3.4"/><circle cx="335.96" cy="156.35" r="3.4"/><circle cx="338.48" cy="160.12" r="3.4"/><circle cx="340.28" cy="156.69" r="3.4"/><circle cx="342.87" cy="154.49" r="3.4"/><circle cx="343.69" cy="153.1" r="3.4"/><circle cx="346.41" cy="149.42" r="3.4"/><circle cx="347.86" cy="148.41" r="3.4"/><circle cx="350.72" cy="146.83" r="3.4"/><circle cx="353.07" cy="143.91" r="3.4"/><circle cx="354.76" cy="144.64" r="3.4"/><circle cx="357.17" cy="144.59" r="3.4"/><circle cx="356.77" cy="145.93" r="3.4"/><circle cx="357.92" cy="149.06" r="3.4"/><circle cx="359.48" cy="154.3" r="3.4"/><circle cx="361.36" cy="152.18" r="3.4"/><circle cx="365.2" cy="153.95" r="3.4"/><circle cx="367.91" cy="151.58" r="3.4"/><circle cx="369.52" cy="150.28" r="3.4"/><circle cx="372.89" cy="148.44" r="3.4"/><circle cx="374.49" cy="147.35" r="3.4"/><circle cx="376.93" cy="145.58" r="3.4"/><circle cx="380.05" cy="142.69" r="3.4"/><circle cx="380.9" cy="144.5" r="3.4"/><circle cx="384.52" cy="142.82" r="3.4"/><circle cx="385.95" cy="140.71" r="3.4"/><circle cx="388.9" cy="135.49" r="3.4"/><circle cx="390.81" cy="136.38" r="3.4"/><circle cx="393" cy="133.21" r="3.4"/><circle cx="394.72" cy="130.67" r="3.4"/><circle cx="396.94" cy="127.7" r="3.4"/><circle cx="400.12" cy="128.08" r="3.4"/><circle cx="403.3" cy="127.49" r="3.4"/><circle cx="403.67" cy="133.3" r="3.4"/><circle cx="403.92" cy="137.11" r="3.4"/><circle cx="404.1" cy="138.56" r="3.4"/><circle cx="402.9" cy="142.21" r="3.4"/><circle cx="403.38" cy="143.1" r="3.4"/><circle cx="404.38" cy="147" r="3.4"/><circle cx="404.6" cy="150.8" r="3.4"/><circle cx="407.12" cy="146.21" r="3.4"/><circle cx="408.78" cy="146.71" r="3.4"/><circle cx="411.48" cy="144.64" r="3.4"/><circle cx="413.62" cy="140.3" r="3.4"/><circle cx="416.6" cy="142.1" r="3.4"/><circle cx="418.82" cy="141.26" r="3.4"/><circle cx="422.86" cy="140.71" r="3.4"/><circle cx="425.55" cy="136.56" r="3.4"/><circle cx="428.03" cy="139.72" r="3.4"/><circle cx="429.52" cy="135.46" r="3.4"/><circle cx="432.01" cy="134.74" r="3.4"/><circle cx="433.76" cy="132.02" r="3.4"/><circle cx="435.84" cy="127.43" r="3.4"/></g>
<g fill="#f8645e" stroke="#f8645e" stroke-width="1.35"><circle cx="436" cy="40.5" r="3.4"/><circle cx="437" cy="40.5" r="3.4"/><circle cx="438" cy="40.5" r="3.4"/><circle cx="439" cy="40.5" r="3.4"/><circle cx="440" cy="40.5" r="3.4"/><circle cx="441" cy="40.5" r="3.4"/></g>
</g>
<rect x="112.2" y="19.6" width="331.6" height="286.6" fill="none" stroke="#000" stroke-width="1.5"/>
<rect x="49.5" y="381.5" width="202.5" height="175.1" fill="none" stroke="#000" stroke-width="1.3"/>
<line x1="49.5" y1="556.5" x2="52.5" y2="556.5" stroke="#000" stroke-width="1.1"/>
<line x1="49.5" y1="545.56" x2="51.3" y2="545.56" stroke="#000" stroke-width="0.9"/>
<text x="45" y="560.3" font-size="11" text-anchor="end" font-weight="bold" >&#8722;30</text>
<line x1="49.5" y1="534.62" x2="52.5" y2="534.62" stroke="#000" stroke-width="1.1"/>
<line x1="49.5" y1="523.69" x2="51.3" y2="523.69" stroke="#000" stroke-width="0.9"/>
<text x="45" y="538.42" font-size="11" text-anchor="end" font-weight="bold" >&#8722;25</text>
<line x1="49.5" y1="512.75" x2="52.5" y2="512.75" stroke="#000" stroke-width="1.1"/>
<line x1="49.5" y1="501.81" x2="51.3" y2="501.81" stroke="#000" stroke-width="0.9"/>
<text x="45" y="516.55" font-size="11" text-anchor="end" font-weight="bold" >&#8722;20</text>
<line x1="49.5" y1="490.88" x2="52.5" y2="490.88" stroke="#000" stroke-width="1.1"/>
<line x1="49.5" y1="479.94" x2="51.3" y2="479.94" stroke="#000" stroke-width="0.9"/>
<text x="45" y="494.68" font-size="11" text-anchor="end" font-weight="bold" >&#8722;15</text>
<line x1="49.5" y1="469" x2="52.5" y2="469" stroke="#000" stroke-width="1.1"/>
<line x1="49.5" y1="458.06" x2="51.3" y2="458.06" stroke="#000" stroke-width="0.9"/>
<text x="45" y="472.8" font-size="11" text-anchor="end" font-weight="bold" >&#8722;10</text>
<line x1="49.5" y1="447.12" x2="52.5" y2="447.12" stroke="#000" stroke-width="1.1"/>
<line x1="49.5" y1="436.19" x2="51.3" y2="436.19" stroke="#000" stroke-width="0.9"/>
<text x="45" y="450.93" font-size="11" text-anchor="end" font-weight="bold" >&#8722;5</text>
<line x1="49.5" y1="425.25" x2="52.5" y2="425.25" stroke="#000" stroke-width="1.1"/>
<line x1="49.5" y1="414.31" x2="51.3" y2="414.31" stroke="#000" stroke-width="0.9"/>
<text x="45" y="429.05" font-size="11" text-anchor="end" font-weight="bold" >0</text>
<line x1="49.5" y1="403.38" x2="52.5" y2="403.38" stroke="#000" stroke-width="1.1"/>
<line x1="49.5" y1="392.44" x2="51.3" y2="392.44" stroke="#000" stroke-width="0.9"/>
<text x="45" y="407.18" font-size="11" text-anchor="end" font-weight="bold" >5</text>
<line x1="49.5" y1="381.5" x2="52.5" y2="381.5" stroke="#000" stroke-width="1.1"/>
<text x="45" y="385.3" font-size="11" text-anchor="end" font-weight="bold" >10</text>
<line x1="49.5" y1="556.6" x2="49.5" y2="553.6" stroke="#000" stroke-width="1.0"/>
<line x1="74.81" y1="556.6" x2="74.81" y2="554.8" stroke="#000" stroke-width="1.0"/>
<line x1="100.13" y1="556.6" x2="100.13" y2="553.6" stroke="#000" stroke-width="1.0"/>
<line x1="125.44" y1="556.6" x2="125.44" y2="554.8" stroke="#000" stroke-width="1.0"/>
<line x1="150.75" y1="556.6" x2="150.75" y2="553.6" stroke="#000" stroke-width="1.0"/>
<line x1="176.06" y1="556.6" x2="176.06" y2="554.8" stroke="#000" stroke-width="1.0"/>
<line x1="201.38" y1="556.6" x2="201.38" y2="553.6" stroke="#000" stroke-width="1.0"/>
<line x1="226.69" y1="556.6" x2="226.69" y2="554.8" stroke="#000" stroke-width="1.0"/>
<line x1="252" y1="556.6" x2="252" y2="553.6" stroke="#000" stroke-width="1.0"/>
<text x="49.5" y="569.4" font-size="10.7" text-anchor="middle" font-weight="bold" >0.20</text>
<text x="100.12" y="569.4" font-size="10.7" text-anchor="middle" font-weight="bold" >0.30</text>
<text x="150.75" y="569.4" font-size="10.7" text-anchor="middle" font-weight="bold" >0.40</text>
<text x="201.38" y="569.4" font-size="10.7" text-anchor="middle" font-weight="bold" >0.50</text>
<text x="252" y="569.4" font-size="10.7" text-anchor="middle" font-weight="bold" >0.60</text>
<text x="2.8" y="370.6" font-size="23.5" text-anchor="start" font-weight="bold" letter-spacing="1">(b)</text>
<text x="63.6" y="400.3" font-size="12.7" text-anchor="start" font-weight="bold" >TAT</text>
<text x="150.75" y="590.1" font-size="14.3" font-weight="bold" text-anchor="middle">1/E<tspan dy="3.2" font-size="10.2">OX</tspan><tspan dy="-3.2"> (cm/MV)</tspan></text>
<text transform="translate(21.7,498) rotate(-90)" font-size="13.8" font-weight="bold">ln<tspan dx="8.5" font-weight="normal">(</tspan><tspan dx="1.8">JE</tspan><tspan dx="2.5" font-weight="normal">)</tspan></text>
<line x1="158.4" y1="398.2" x2="186" y2="398.2" stroke="#6b97d4" stroke-width="1.0"/>
<g fill="#fff" stroke="#6b97d4" stroke-width="1.0"><rect x="170.5" y="396.5" width="3.4" height="3.4"/></g>
<line x1="158.4" y1="416.6" x2="186" y2="416.6" stroke="#f8645e" stroke-width="1.0"/>
<g fill="#fff" stroke="#f8645e" stroke-width="1.0"><circle cx="172.2" cy="416.6" r="2.2"/></g>
<text x="189.4" y="402.66" font-size="12.4" font-weight="bold">HfO<tspan dy="3.1" font-size="8.68">2</tspan></text>
<text x="189.4" y="421.06" font-size="12.4" font-weight="bold">SiO<tspan dy="3.1" font-size="8.68">2</tspan><tspan dy="-3.1">/HfO</tspan><tspan dy="3.1" font-size="8.68">2</tspan></text>
<g clip-path="url(#cB)">
<polyline fill="none" stroke="#6b97d4" stroke-width="0.9" points="50.5,411.5 59.1,413.4 66.6,417.1 73,421.7 74.9,428.6 84.2,428.6 83.2,435.3 87,435.3 87,449.6 90.7,454.2 98.1,461.6 109.2,468.1 125.9,474.6 150,480.2 180,485.5 210,489.5 250.9,493.5"/>
<g fill="#fff" stroke="#6b97d4" stroke-width="0.9"><rect x="248.49" y="491.78" width="3.3" height="3.3"/><rect x="244.8" y="491.42" width="3.3" height="3.3"/><rect x="241.12" y="491.06" width="3.3" height="3.3"/><rect x="237.44" y="490.69" width="3.3" height="3.3"/><rect x="233.76" y="490.33" width="3.3" height="3.3"/><rect x="230.07" y="489.97" width="3.3" height="3.3"/><rect x="226.39" y="489.61" width="3.3" height="3.3"/><rect x="222.71" y="489.25" width="3.3" height="3.3"/><rect x="219.03" y="488.89" width="3.3" height="3.3"/><rect x="215.34" y="488.53" width="3.3" height="3.3"/><rect x="211.66" y="488.17" width="3.3" height="3.3"/><rect x="207.98" y="487.8" width="3.3" height="3.3"/><rect x="204.31" y="487.31" width="3.3" height="3.3"/><rect x="200.65" y="486.82" width="3.3" height="3.3"/><rect x="196.98" y="486.33" width="3.3" height="3.3"/><rect x="193.31" y="485.84" width="3.3" height="3.3"/><rect x="189.64" y="485.36" width="3.3" height="3.3"/><rect x="185.98" y="484.87" width="3.3" height="3.3"/><rect x="182.31" y="484.38" width="3.3" height="3.3"/><rect x="178.64" y="483.89" width="3.3" height="3.3"/><rect x="175" y="483.26" width="3.3" height="3.3"/><rect x="171.35" y="482.61" width="3.3" height="3.3"/><rect x="167.71" y="481.97" width="3.3" height="3.3"/><rect x="164.06" y="481.33" width="3.3" height="3.3"/><rect x="160.42" y="480.68" width="3.3" height="3.3"/><rect x="156.78" y="480.04" width="3.3" height="3.3"/><rect x="153.13" y="479.4" width="3.3" height="3.3"/><rect x="149.49" y="478.75" width="3.3" height="3.3"/><rect x="145.87" y="477.97" width="3.3" height="3.3"/><rect x="142.27" y="477.14" width="3.3" height="3.3"/><rect x="138.67" y="476.3" width="3.3" height="3.3"/><rect x="135.06" y="475.46" width="3.3" height="3.3"/><rect x="131.46" y="474.62" width="3.3" height="3.3"/><rect x="127.85" y="473.79" width="3.3" height="3.3"/></g>
<g fill="#fff" stroke="#6b97d4" stroke-width="1.0"><rect x="121.97" y="471.91" width="3.8" height="3.8"/><rect x="119.92" y="471.11" width="3.8" height="3.8"/><rect x="117.86" y="470.31" width="3.8" height="3.8"/><rect x="115.81" y="469.51" width="3.8" height="3.8"/><rect x="113.76" y="468.72" width="3.8" height="3.8"/><rect x="111.71" y="467.92" width="3.8" height="3.8"/><rect x="109.66" y="467.12" width="3.8" height="3.8"/><rect x="107.61" y="466.32" width="3.8" height="3.8"/><rect x="105.69" y="465.26" width="3.8" height="3.8"/><rect x="103.79" y="464.15" width="3.8" height="3.8"/><rect x="101.9" y="463.04" width="3.8" height="3.8"/><rect x="100" y="461.92" width="3.8" height="3.8"/><rect x="98.1" y="460.81" width="3.8" height="3.8"/><rect x="96.2" y="459.7" width="3.8" height="3.8"/><rect x="95.23" y="458.73" width="3.8" height="3.8"/><rect x="94.17" y="457.67" width="3.8" height="3.8"/><rect x="93.11" y="456.61" width="3.8" height="3.8"/><rect x="92.05" y="455.55" width="3.8" height="3.8"/><rect x="90.99" y="454.49" width="3.8" height="3.8"/><rect x="89.93" y="453.43" width="3.8" height="3.8"/><rect x="88.87" y="452.37" width="3.8" height="3.8"/><rect x="87.92" y="451.21" width="3.8" height="3.8"/><rect x="86.98" y="450.04" width="3.8" height="3.8"/><rect x="86.04" y="448.87" width="3.8" height="3.8"/><rect x="85.1" y="447.7" width="3.8" height="3.8"/></g>
<g fill="#fff" stroke="#6b97d4" stroke-width="1.0"><rect x="85.1" y="433.4" width="3.8" height="3.8"/><rect x="82.1" y="433.4" width="3.8" height="3.8"/></g>
<g fill="#fff" stroke="#6b97d4" stroke-width="1.0"><rect x="81.4" y="426.7" width="3.8" height="3.8"/><rect x="80.2" y="426.7" width="3.8" height="3.8"/><rect x="79" y="426.7" width="3.8" height="3.8"/><rect x="77.8" y="426.7" width="3.8" height="3.8"/><rect x="76.6" y="426.7" width="3.8" height="3.8"/><rect x="75.4" y="426.7" width="3.8" height="3.8"/><rect x="74.2" y="426.7" width="3.8" height="3.8"/><rect x="73" y="426.7" width="3.8" height="3.8"/></g>
<g fill="#fff" stroke="#6b97d4" stroke-width="1.15"><rect x="48.4" y="409.4" width="4.2" height="4.2"/><rect x="49.08" y="409.55" width="4.2" height="4.2"/><rect x="49.77" y="409.7" width="4.2" height="4.2"/><rect x="50.45" y="409.85" width="4.2" height="4.2"/><rect x="51.13" y="410" width="4.2" height="4.2"/><rect x="51.82" y="410.16" width="4.2" height="4.2"/><rect x="52.5" y="410.31" width="4.2" height="4.2"/><rect x="53.18" y="410.46" width="4.2" height="4.2"/><rect x="53.87" y="410.61" width="4.2" height="4.2"/><rect x="54.55" y="410.76" width="4.2" height="4.2"/><rect x="55.24" y="410.91" width="4.2" height="4.2"/><rect x="55.92" y="411.06" width="4.2" height="4.2"/><rect x="56.6" y="411.21" width="4.2" height="4.2"/><rect x="57.26" y="411.43" width="4.2" height="4.2"/><rect x="57.89" y="411.74" width="4.2" height="4.2"/><rect x="58.52" y="412.05" width="4.2" height="4.2"/><rect x="59.15" y="412.36" width="4.2" height="4.2"/><rect x="59.77" y="412.67" width="4.2" height="4.2"/><rect x="60.4" y="412.98" width="4.2" height="4.2"/><rect x="61.03" y="413.29" width="4.2" height="4.2"/><rect x="61.66" y="413.6" width="4.2" height="4.2"/><rect x="62.28" y="413.91" width="4.2" height="4.2"/><rect x="62.91" y="414.22" width="4.2" height="4.2"/><rect x="63.54" y="414.53" width="4.2" height="4.2"/><rect x="64.17" y="414.84" width="4.2" height="4.2"/><rect x="64.77" y="415.19" width="4.2" height="4.2"/><rect x="65.34" y="415.6" width="4.2" height="4.2"/><rect x="65.9" y="416.01" width="4.2" height="4.2"/><rect x="66.47" y="416.42" width="4.2" height="4.2"/><rect x="67.04" y="416.83" width="4.2" height="4.2"/><rect x="67.61" y="417.24" width="4.2" height="4.2"/><rect x="68.18" y="417.64" width="4.2" height="4.2"/><rect x="68.75" y="418.05" width="4.2" height="4.2"/><rect x="69.31" y="418.46" width="4.2" height="4.2"/><rect x="69.88" y="418.87" width="4.2" height="4.2"/><rect x="70.45" y="419.28" width="4.2" height="4.2"/></g>
<polyline fill="none" stroke="#f8645e" stroke-width="0.9" points="50.8,465.6 53.6,473.9 59.1,477.6 62.8,482.3 70.3,490.6 75.8,493.4 94.4,499 112.9,503.6 131.5,506.4 144.2,507 152.6,515.4 160.9,519.6 164,514.8 169.3,510.2 175.6,510.2 181.8,512.3 185,517.5 188.5,510.2 191.3,522.8 194.4,514 201.1,519 204.4,510.6 214.3,515.4 218.5,512.3 222.6,513.3 226.2,527.4 230.4,514.8 238.7,518.6 247.7,514.8"/>
<g fill="#fff" stroke="#f8645e" stroke-width="1.1"><circle cx="247.7" cy="514.8" r="2"/><circle cx="238.7" cy="518.6" r="2"/><circle cx="230.4" cy="514.8" r="2"/><circle cx="226.2" cy="527.4" r="2"/><circle cx="222.6" cy="513.3" r="2"/><circle cx="218.5" cy="512.3" r="2"/><circle cx="214.3" cy="515.4" r="2"/><circle cx="204.4" cy="510.6" r="2"/><circle cx="201.1" cy="519" r="2"/><circle cx="194.4" cy="514" r="2"/><circle cx="191.3" cy="522.8" r="2"/><circle cx="188.5" cy="510.2" r="2"/><circle cx="185" cy="517.5" r="2"/><circle cx="181.8" cy="512.3" r="2"/><circle cx="175.6" cy="510.2" r="2"/><circle cx="169.3" cy="510.2" r="2"/><circle cx="164" cy="514.8" r="2"/></g>
<g fill="#fff" stroke="#f8645e" stroke-width="1.1"><circle cx="162.96" cy="516.44" r="2"/><circle cx="161.56" cy="517.28" r="2"/><circle cx="160.7" cy="518.51" r="2"/><circle cx="158.16" cy="519.48" r="2"/><circle cx="155.31" cy="517.59" r="2"/><circle cx="153.27" cy="514.95" r="2"/><circle cx="151.61" cy="515.51" r="2"/><circle cx="149.91" cy="511.99" r="2"/><circle cx="147.63" cy="511.11" r="2"/><circle cx="146.2" cy="508.78" r="2"/><circle cx="143.84" cy="507.99" r="2"/><circle cx="141.26" cy="507.16" r="2"/><circle cx="138.25" cy="508.21" r="2"/><circle cx="135.87" cy="507.44" r="2"/><circle cx="133.09" cy="506.08" r="2"/><circle cx="130.87" cy="505.96" r="2"/><circle cx="127.99" cy="504.49" r="2"/><circle cx="125.86" cy="504.84" r="2"/><circle cx="123.08" cy="506.21" r="2"/><circle cx="120.37" cy="505.38" r="2"/><circle cx="118.27" cy="505.73" r="2"/><circle cx="115.25" cy="503.18" r="2"/><circle cx="112.04" cy="503.73" r="2"/><circle cx="110.76" cy="502.46" r="2"/><circle cx="109.81" cy="503.5" r="2"/><circle cx="109.11" cy="502.59" r="2"/><circle cx="106.87" cy="502.97" r="2"/><circle cx="106.57" cy="500.85" r="2"/><circle cx="104.81" cy="502.02" r="2"/><circle cx="103.78" cy="501.33" r="2"/><circle cx="102.54" cy="501.73" r="2"/><circle cx="101.34" cy="499.63" r="2"/><circle cx="100.35" cy="500.08" r="2"/><circle cx="98.02" cy="500.03" r="2"/><circle cx="97.08" cy="499.47" r="2"/><circle cx="95.84" cy="499.09" r="2"/><circle cx="95.04" cy="498.76" r="2"/><circle cx="93.19" cy="499.07" r="2"/><circle cx="91.93" cy="497.39" r="2"/><circle cx="91.07" cy="498.96" r="2"/><circle cx="89.23" cy="497.07" r="2"/><circle cx="88.81" cy="498.53" r="2"/><circle cx="87.52" cy="495.67" r="2"/><circle cx="86.34" cy="496.51" r="2"/><circle cx="85.13" cy="494.71" r="2"/><circle cx="84.07" cy="495.96" r="2"/><circle cx="82.49" cy="496.36" r="2"/><circle cx="80.58" cy="496.01" r="2"/><circle cx="79.22" cy="495.63" r="2"/><circle cx="79.01" cy="493.27" r="2"/><circle cx="76.82" cy="492.65" r="2"/><circle cx="76.39" cy="492.11" r="2"/><circle cx="74.29" cy="491.86" r="2"/><circle cx="73.25" cy="492.61" r="2"/><circle cx="72.85" cy="491.95" r="2"/><circle cx="71.76" cy="491.67" r="2"/><circle cx="70.46" cy="491.72" r="2"/><circle cx="68.94" cy="490.53" r="2"/><circle cx="68.23" cy="488.52" r="2"/><circle cx="68.12" cy="488.54" r="2"/><circle cx="67.3" cy="486.32" r="2"/><circle cx="65.82" cy="486.87" r="2"/><circle cx="64.52" cy="484.55" r="2"/><circle cx="64.2" cy="484.39" r="2"/><circle cx="63.24" cy="482.08" r="2"/><circle cx="62.35" cy="482.43" r="2"/><circle cx="61.64" cy="481.44" r="2"/><circle cx="60.76" cy="479.43" r="2"/><circle cx="60.4" cy="479.16" r="2"/><circle cx="59.57" cy="477.41" r="2"/><circle cx="58.04" cy="477.31" r="2"/><circle cx="56.61" cy="475.3" r="2"/><circle cx="56.3" cy="475.18" r="2"/><circle cx="54.51" cy="474.98" r="2"/><circle cx="53.51" cy="473.58" r="2"/><circle cx="53.4" cy="472.57" r="2"/><circle cx="52.7" cy="472.2" r="2"/><circle cx="52.24" cy="469.97" r="2"/><circle cx="51.55" cy="469.3" r="2"/><circle cx="52.2" cy="469.13" r="2"/><circle cx="50.77" cy="465.54" r="2"/><circle cx="50.27" cy="464.48" r="2"/></g>
<line x1="73" y1="491.9" x2="176.6" y2="520.3" stroke="#000" stroke-width="2.5"/>
</g>
<rect x="49.5" y="381.5" width="202.5" height="175.1" fill="none" stroke="#000" stroke-width="1.3"/>
<rect x="331.7" y="381.6" width="203.5" height="176.4" fill="none" stroke="#000" stroke-width="1.3"/>
<line x1="331.7" y1="558" x2="334.7" y2="558" stroke="#000" stroke-width="1.1"/>
<line x1="331.7" y1="543.3" x2="333.5" y2="543.3" stroke="#000" stroke-width="0.9"/>
<text x="326.8" y="561.8" font-size="11" text-anchor="end" font-weight="bold" >&#8722;40</text>
<line x1="331.7" y1="528.6" x2="334.7" y2="528.6" stroke="#000" stroke-width="1.1"/>
<line x1="331.7" y1="513.9" x2="333.5" y2="513.9" stroke="#000" stroke-width="0.9"/>
<text x="326.8" y="532.4" font-size="11" text-anchor="end" font-weight="bold" >&#8722;35</text>
<line x1="331.7" y1="499.2" x2="334.7" y2="499.2" stroke="#000" stroke-width="1.1"/>
<line x1="331.7" y1="484.5" x2="333.5" y2="484.5" stroke="#000" stroke-width="0.9"/>
<text x="326.8" y="503" font-size="11" text-anchor="end" font-weight="bold" >&#8722;30</text>
<line x1="331.7" y1="469.8" x2="334.7" y2="469.8" stroke="#000" stroke-width="1.1"/>
<line x1="331.7" y1="455.1" x2="333.5" y2="455.1" stroke="#000" stroke-width="0.9"/>
<text x="326.8" y="473.6" font-size="11" text-anchor="end" font-weight="bold" >&#8722;25</text>
<line x1="331.7" y1="440.4" x2="334.7" y2="440.4" stroke="#000" stroke-width="1.1"/>
<line x1="331.7" y1="425.7" x2="333.5" y2="425.7" stroke="#000" stroke-width="0.9"/>
<text x="326.8" y="444.2" font-size="11" text-anchor="end" font-weight="bold" >&#8722;20</text>
<line x1="331.7" y1="411" x2="334.7" y2="411" stroke="#000" stroke-width="1.1"/>
<line x1="331.7" y1="396.3" x2="333.5" y2="396.3" stroke="#000" stroke-width="0.9"/>
<text x="326.8" y="414.8" font-size="11" text-anchor="end" font-weight="bold" >&#8722;15</text>
<line x1="331.7" y1="381.6" x2="334.7" y2="381.6" stroke="#000" stroke-width="1.1"/>
<text x="326.8" y="385.4" font-size="11" text-anchor="end" font-weight="bold" >&#8722;10</text>
<line x1="331.7" y1="558" x2="331.7" y2="556.2" stroke="#000" stroke-width="1.0"/>
<line x1="343.01" y1="558" x2="343.01" y2="555" stroke="#000" stroke-width="1.0"/>
<line x1="354.31" y1="558" x2="354.31" y2="556.2" stroke="#000" stroke-width="1.0"/>
<line x1="365.62" y1="558" x2="365.62" y2="555" stroke="#000" stroke-width="1.0"/>
<line x1="376.92" y1="558" x2="376.92" y2="556.2" stroke="#000" stroke-width="1.0"/>
<line x1="388.23" y1="558" x2="388.23" y2="555" stroke="#000" stroke-width="1.0"/>
<line x1="399.54" y1="558" x2="399.54" y2="556.2" stroke="#000" stroke-width="1.0"/>
<line x1="410.84" y1="558" x2="410.84" y2="555" stroke="#000" stroke-width="1.0"/>
<line x1="422.15" y1="558" x2="422.15" y2="556.2" stroke="#000" stroke-width="1.0"/>
<line x1="433.45" y1="558" x2="433.45" y2="555" stroke="#000" stroke-width="1.0"/>
<line x1="444.76" y1="558" x2="444.76" y2="556.2" stroke="#000" stroke-width="1.0"/>
<line x1="456.07" y1="558" x2="456.07" y2="555" stroke="#000" stroke-width="1.0"/>
<line x1="467.37" y1="558" x2="467.37" y2="556.2" stroke="#000" stroke-width="1.0"/>
<line x1="478.68" y1="558" x2="478.68" y2="555" stroke="#000" stroke-width="1.0"/>
<line x1="489.98" y1="558" x2="489.98" y2="556.2" stroke="#000" stroke-width="1.0"/>
<line x1="501.29" y1="558" x2="501.29" y2="555" stroke="#000" stroke-width="1.0"/>
<line x1="512.6" y1="558" x2="512.6" y2="556.2" stroke="#000" stroke-width="1.0"/>
<line x1="523.9" y1="558" x2="523.9" y2="555" stroke="#000" stroke-width="1.0"/>
<line x1="535.21" y1="558" x2="535.21" y2="556.2" stroke="#000" stroke-width="1.0"/>
<text x="343.01" y="570.3" font-size="10.7" text-anchor="middle" font-weight="bold" >1.0</text>
<text x="365.62" y="570.3" font-size="10.7" text-anchor="middle" font-weight="bold" >1.2</text>
<text x="388.23" y="570.3" font-size="10.7" text-anchor="middle" font-weight="bold" >1.4</text>
<text x="410.84" y="570.3" font-size="10.7" text-anchor="middle" font-weight="bold" >1.6</text>
<text x="433.45" y="570.3" font-size="10.7" text-anchor="middle" font-weight="bold" >1.8</text>
<text x="456.07" y="570.3" font-size="10.7" text-anchor="middle" font-weight="bold" >2.0</text>
<text x="478.68" y="570.3" font-size="10.7" text-anchor="middle" font-weight="bold" >2.2</text>
<text x="501.29" y="570.3" font-size="10.7" text-anchor="middle" font-weight="bold" >2.4</text>
<text x="523.9" y="570.3" font-size="10.7" text-anchor="middle" font-weight="bold" >2.6</text>
<text x="264.4" y="370.8" font-size="23.5" text-anchor="start" font-weight="bold" letter-spacing="0.6">(c)</text>
<text x="344" y="401.7" font-size="12.7" text-anchor="start" font-weight="bold" >P-F</text>
<text x="433.25" y="592" font-size="14.9" font-weight="bold" text-anchor="middle">E<tspan dy="-5.2" dx="1" font-size="8.7">1/2</tspan><tspan dy="5.2"> (MV/cm)</tspan><tspan dy="-5.2" font-size="8.7">1/2</tspan></text>
<text transform="translate(304.2,519.7) rotate(-90)" font-size="13.8" font-weight="bold">ln<tspan dx="8" font-weight="normal">(</tspan><tspan dx="2">J/E</tspan><tspan dx="1.5" font-weight="normal">)</tspan><tspan dx="15.5">(A/V)</tspan></text>
<line x1="443.6" y1="522.4" x2="471.8" y2="522.4" stroke="#6b97d4" stroke-width="1.0"/>
<g fill="#fff" stroke="#6b97d4" stroke-width="1.0"><rect x="456" y="520.7" width="3.4" height="3.4"/></g>
<line x1="443.6" y1="540.2" x2="471.8" y2="540.2" stroke="#f8645e" stroke-width="1.0"/>
<g fill="#fff" stroke="#f8645e" stroke-width="1.0"><circle cx="457.7" cy="540.2" r="2.2"/></g>
<text x="474.3" y="526.86" font-size="12.4" font-weight="bold">HfO<tspan dy="3.1" font-size="8.68">2</tspan></text>
<text x="474.3" y="544.66" font-size="12.4" font-weight="bold">SiO<tspan dy="3.1" font-size="8.68">2</tspan><tspan dy="-3.1">/HfO</tspan><tspan dy="3.1" font-size="8.68">2</tspan></text>
<g clip-path="url(#cC)">
<polyline fill="none" stroke="#6b97d4" stroke-width="0.9" points="332.5,515.5 350,510.5 366,506 390,498.5 410,490.5 420,485 430,478 438,471 442,464 445,456.5 445.8,451.7 447.8,433.2 457.1,424.4 458.2,415.2"/>
<g fill="#fff" stroke="#6b97d4" stroke-width="1.1"><rect x="330.8" y="513.8" width="3.4" height="3.4"/><rect x="331.57" y="513.58" width="3.4" height="3.4"/><rect x="332.34" y="513.36" width="3.4" height="3.4"/><rect x="333.11" y="513.14" width="3.4" height="3.4"/><rect x="333.88" y="512.92" width="3.4" height="3.4"/><rect x="334.65" y="512.7" width="3.4" height="3.4"/><rect x="335.42" y="512.48" width="3.4" height="3.4"/><rect x="336.18" y="512.26" width="3.4" height="3.4"/><rect x="336.95" y="512.04" width="3.4" height="3.4"/><rect x="337.72" y="511.82" width="3.4" height="3.4"/><rect x="338.49" y="511.6" width="3.4" height="3.4"/><rect x="339.26" y="511.38" width="3.4" height="3.4"/><rect x="340.03" y="511.16" width="3.4" height="3.4"/><rect x="340.8" y="510.94" width="3.4" height="3.4"/><rect x="341.57" y="510.72" width="3.4" height="3.4"/><rect x="342.34" y="510.5" width="3.4" height="3.4"/><rect x="343.11" y="510.28" width="3.4" height="3.4"/><rect x="343.88" y="510.06" width="3.4" height="3.4"/><rect x="344.65" y="509.84" width="3.4" height="3.4"/><rect x="345.42" y="509.62" width="3.4" height="3.4"/><rect x="346.18" y="509.4" width="3.4" height="3.4"/><rect x="346.95" y="509.18" width="3.4" height="3.4"/><rect x="347.72" y="508.96" width="3.4" height="3.4"/><rect x="348.49" y="508.75" width="3.4" height="3.4"/><rect x="349.26" y="508.53" width="3.4" height="3.4"/><rect x="350.03" y="508.31" width="3.4" height="3.4"/><rect x="350.8" y="508.1" width="3.4" height="3.4"/><rect x="351.57" y="507.88" width="3.4" height="3.4"/><rect x="352.34" y="507.66" width="3.4" height="3.4"/><rect x="353.11" y="507.45" width="3.4" height="3.4"/><rect x="353.88" y="507.23" width="3.4" height="3.4"/><rect x="354.65" y="507.01" width="3.4" height="3.4"/><rect x="355.42" y="506.8" width="3.4" height="3.4"/><rect x="356.19" y="506.58" width="3.4" height="3.4"/><rect x="356.96" y="506.36" width="3.4" height="3.4"/><rect x="357.73" y="506.15" width="3.4" height="3.4"/><rect x="358.5" y="505.93" width="3.4" height="3.4"/><rect x="359.27" y="505.71" width="3.4" height="3.4"/><rect x="360.04" y="505.5" width="3.4" height="3.4"/><rect x="360.81" y="505.28" width="3.4" height="3.4"/><rect x="361.58" y="505.06" width="3.4" height="3.4"/><rect x="362.35" y="504.85" width="3.4" height="3.4"/><rect x="363.12" y="504.63" width="3.4" height="3.4"/><rect x="363.89" y="504.41" width="3.4" height="3.4"/><rect x="364.66" y="504.19" width="3.4" height="3.4"/><rect x="365.43" y="503.95" width="3.4" height="3.4"/><rect x="366.19" y="503.71" width="3.4" height="3.4"/><rect x="366.95" y="503.47" width="3.4" height="3.4"/><rect x="367.72" y="503.23" width="3.4" height="3.4"/><rect x="368.48" y="502.99" width="3.4" height="3.4"/><rect x="369.24" y="502.76" width="3.4" height="3.4"/><rect x="370.01" y="502.52" width="3.4" height="3.4"/><rect x="370.77" y="502.28" width="3.4" height="3.4"/><rect x="371.53" y="502.04" width="3.4" height="3.4"/><rect x="372.3" y="501.8" width="3.4" height="3.4"/><rect x="373.06" y="501.56" width="3.4" height="3.4"/><rect x="373.82" y="501.32" width="3.4" height="3.4"/><rect x="374.59" y="501.08" width="3.4" height="3.4"/><rect x="375.35" y="500.85" width="3.4" height="3.4"/><rect x="376.12" y="500.61" width="3.4" height="3.4"/><rect x="376.88" y="500.37" width="3.4" height="3.4"/><rect x="377.64" y="500.13" width="3.4" height="3.4"/><rect x="378.41" y="499.89" width="3.4" height="3.4"/><rect x="379.17" y="499.65" width="3.4" height="3.4"/><rect x="379.93" y="499.41" width="3.4" height="3.4"/><rect x="380.7" y="499.18" width="3.4" height="3.4"/><rect x="381.46" y="498.94" width="3.4" height="3.4"/><rect x="382.22" y="498.7" width="3.4" height="3.4"/><rect x="382.99" y="498.46" width="3.4" height="3.4"/><rect x="383.75" y="498.22" width="3.4" height="3.4"/><rect x="384.51" y="497.98" width="3.4" height="3.4"/><rect x="385.28" y="497.74" width="3.4" height="3.4"/><rect x="386.04" y="497.51" width="3.4" height="3.4"/><rect x="386.81" y="497.27" width="3.4" height="3.4"/><rect x="387.57" y="497.03" width="3.4" height="3.4"/><rect x="388.33" y="496.79" width="3.4" height="3.4"/><rect x="389.07" y="496.49" width="3.4" height="3.4"/><rect x="389.82" y="496.19" width="3.4" height="3.4"/><rect x="390.56" y="495.9" width="3.4" height="3.4"/><rect x="391.3" y="495.6" width="3.4" height="3.4"/><rect x="392.05" y="495.3" width="3.4" height="3.4"/><rect x="392.79" y="495" width="3.4" height="3.4"/><rect x="393.53" y="494.71" width="3.4" height="3.4"/><rect x="394.27" y="494.41" width="3.4" height="3.4"/><rect x="395.02" y="494.11" width="3.4" height="3.4"/><rect x="395.76" y="493.82" width="3.4" height="3.4"/><rect x="396.5" y="493.52" width="3.4" height="3.4"/><rect x="397.25" y="493.22" width="3.4" height="3.4"/><rect x="397.99" y="492.92" width="3.4" height="3.4"/><rect x="398.73" y="492.63" width="3.4" height="3.4"/><rect x="399.47" y="492.33" width="3.4" height="3.4"/><rect x="400.22" y="492.03" width="3.4" height="3.4"/><rect x="400.96" y="491.74" width="3.4" height="3.4"/><rect x="401.7" y="491.44" width="3.4" height="3.4"/><rect x="402.44" y="491.14" width="3.4" height="3.4"/><rect x="403.19" y="490.84" width="3.4" height="3.4"/><rect x="403.93" y="490.55" width="3.4" height="3.4"/><rect x="404.67" y="490.25" width="3.4" height="3.4"/><rect x="405.42" y="489.95" width="3.4" height="3.4"/><rect x="406.16" y="489.66" width="3.4" height="3.4"/><rect x="406.9" y="489.36" width="3.4" height="3.4"/><rect x="407.64" y="489.06" width="3.4" height="3.4"/><rect x="408.38" y="488.75" width="3.4" height="3.4"/><rect x="409.08" y="488.37" width="3.4" height="3.4"/><rect x="409.78" y="487.98" width="3.4" height="3.4"/><rect x="410.49" y="487.6" width="3.4" height="3.4"/><rect x="411.19" y="487.21" width="3.4" height="3.4"/><rect x="411.89" y="486.83" width="3.4" height="3.4"/><rect x="412.59" y="486.44" width="3.4" height="3.4"/><rect x="413.29" y="486.06" width="3.4" height="3.4"/><rect x="413.99" y="485.67" width="3.4" height="3.4"/><rect x="414.69" y="485.29" width="3.4" height="3.4"/><rect x="415.39" y="484.9" width="3.4" height="3.4"/><rect x="416.09" y="484.51" width="3.4" height="3.4"/><rect x="416.79" y="484.13" width="3.4" height="3.4"/><rect x="417.49" y="483.74" width="3.4" height="3.4"/><rect x="418.2" y="483.36" width="3.4" height="3.4"/><rect x="418.86" y="482.91" width="3.4" height="3.4"/><rect x="419.51" y="482.45" width="3.4" height="3.4"/><rect x="420.17" y="481.99" width="3.4" height="3.4"/><rect x="420.82" y="481.53" width="3.4" height="3.4"/><rect x="421.48" y="481.07" width="3.4" height="3.4"/><rect x="422.13" y="480.62" width="3.4" height="3.4"/><rect x="422.79" y="480.16" width="3.4" height="3.4"/><rect x="423.45" y="479.7" width="3.4" height="3.4"/><rect x="424.1" y="479.24" width="3.4" height="3.4"/><rect x="424.76" y="478.78" width="3.4" height="3.4"/><rect x="425.41" y="478.32" width="3.4" height="3.4"/><rect x="426.07" y="477.86" width="3.4" height="3.4"/><rect x="426.72" y="477.4" width="3.4" height="3.4"/><rect x="427.38" y="476.95" width="3.4" height="3.4"/><rect x="428.03" y="476.49" width="3.4" height="3.4"/></g>
<g fill="#fff" stroke="#6b97d4" stroke-width="1.0"><rect x="428.25" y="476.25" width="3.5" height="3.5"/><rect x="429.76" y="474.93" width="3.5" height="3.5"/><rect x="431.26" y="473.62" width="3.5" height="3.5"/><rect x="432.77" y="472.3" width="3.5" height="3.5"/><rect x="434.27" y="470.98" width="3.5" height="3.5"/><rect x="435.78" y="469.66" width="3.5" height="3.5"/><rect x="436.93" y="468.06" width="3.5" height="3.5"/><rect x="437.92" y="466.32" width="3.5" height="3.5"/><rect x="438.91" y="464.59" width="3.5" height="3.5"/><rect x="439.91" y="462.85" width="3.5" height="3.5"/><rect x="440.74" y="461.04" width="3.5" height="3.5"/><rect x="441.48" y="459.18" width="3.5" height="3.5"/><rect x="442.22" y="457.32" width="3.5" height="3.5"/><rect x="442.96" y="455.47" width="3.5" height="3.5"/><rect x="443.45" y="453.54" width="3.5" height="3.5"/><rect x="443.78" y="451.56" width="3.5" height="3.5"/></g>
<g fill="#fff" stroke="#6b97d4" stroke-width="1.0"><rect x="443.65" y="431.35" width="3.7" height="3.7"/><rect x="445.15" y="431.35" width="3.7" height="3.7"/><rect x="446.65" y="431.35" width="3.7" height="3.7"/></g>
<g fill="#fff" stroke="#6b97d4" stroke-width="1.0"><rect x="448.65" y="422.55" width="3.7" height="3.7"/><rect x="450.25" y="422.55" width="3.7" height="3.7"/><rect x="451.85" y="422.55" width="3.7" height="3.7"/><rect x="453.45" y="422.55" width="3.7" height="3.7"/><rect x="455.05" y="422.55" width="3.7" height="3.7"/></g>
<g fill="#fff" stroke="#6b97d4" stroke-width="1.0"><rect x="456.35" y="413.35" width="3.7" height="3.7"/></g>
<g fill="#fff" stroke="#6b97d4" stroke-width="1.1"><rect x="456.55" y="410.05" width="3.9" height="3.9"/><rect x="457.05" y="409.72" width="3.9" height="3.9"/><rect x="457.55" y="409.38" width="3.9" height="3.9"/><rect x="458.05" y="409.05" width="3.9" height="3.9"/><rect x="458.55" y="408.72" width="3.9" height="3.9"/><rect x="459.05" y="408.39" width="3.9" height="3.9"/><rect x="459.55" y="408.05" width="3.9" height="3.9"/><rect x="460.04" y="407.72" width="3.9" height="3.9"/><rect x="460.54" y="407.39" width="3.9" height="3.9"/><rect x="461.04" y="407.05" width="3.9" height="3.9"/><rect x="461.54" y="406.72" width="3.9" height="3.9"/><rect x="462.04" y="406.39" width="3.9" height="3.9"/><rect x="462.54" y="406.06" width="3.9" height="3.9"/><rect x="463.04" y="405.72" width="3.9" height="3.9"/><rect x="463.54" y="405.39" width="3.9" height="3.9"/><rect x="464.04" y="405.06" width="3.9" height="3.9"/><rect x="464.6" y="404.86" width="3.9" height="3.9"/><rect x="465.17" y="404.66" width="3.9" height="3.9"/><rect x="465.74" y="404.46" width="3.9" height="3.9"/><rect x="466.3" y="404.26" width="3.9" height="3.9"/><rect x="466.87" y="404.06" width="3.9" height="3.9"/><rect x="467.43" y="403.87" width="3.9" height="3.9"/><rect x="468" y="403.67" width="3.9" height="3.9"/><rect x="468.57" y="403.47" width="3.9" height="3.9"/><rect x="469.13" y="403.27" width="3.9" height="3.9"/><rect x="469.7" y="403.07" width="3.9" height="3.9"/><rect x="470.27" y="402.87" width="3.9" height="3.9"/><rect x="470.83" y="402.68" width="3.9" height="3.9"/><rect x="471.4" y="402.48" width="3.9" height="3.9"/><rect x="471.97" y="402.28" width="3.9" height="3.9"/><rect x="472.53" y="402.08" width="3.9" height="3.9"/><rect x="473.1" y="401.88" width="3.9" height="3.9"/><rect x="473.66" y="401.69" width="3.9" height="3.9"/><rect x="474.24" y="401.54" width="3.9" height="3.9"/><rect x="474.84" y="401.49" width="3.9" height="3.9"/><rect x="475.44" y="401.45" width="3.9" height="3.9"/><rect x="476.04" y="401.4" width="3.9" height="3.9"/><rect x="476.63" y="401.36" width="3.9" height="3.9"/><rect x="477.23" y="401.31" width="3.9" height="3.9"/><rect x="477.83" y="401.27" width="3.9" height="3.9"/><rect x="478.43" y="401.27" width="3.9" height="3.9"/><rect x="479.03" y="401.3" width="3.9" height="3.9"/><rect x="479.63" y="401.33" width="3.9" height="3.9"/><rect x="480.23" y="401.36" width="3.9" height="3.9"/><rect x="480.83" y="401.39" width="3.9" height="3.9"/><rect x="481.43" y="401.42" width="3.9" height="3.9"/><rect x="482.02" y="401.45" width="3.9" height="3.9"/><rect x="482.62" y="401.48" width="3.9" height="3.9"/><rect x="483.22" y="401.51" width="3.9" height="3.9"/><rect x="483.82" y="401.54" width="3.9" height="3.9"/><rect x="484.42" y="401.57" width="3.9" height="3.9"/><rect x="485.02" y="401.6" width="3.9" height="3.9"/><rect x="485.62" y="401.64" width="3.9" height="3.9"/><rect x="486.22" y="401.67" width="3.9" height="3.9"/><rect x="486.82" y="401.7" width="3.9" height="3.9"/><rect x="487.42" y="401.73" width="3.9" height="3.9"/><rect x="488.02" y="401.76" width="3.9" height="3.9"/><rect x="488.62" y="401.79" width="3.9" height="3.9"/><rect x="489.22" y="401.82" width="3.9" height="3.9"/><rect x="489.81" y="401.85" width="3.9" height="3.9"/><rect x="490.41" y="401.88" width="3.9" height="3.9"/><rect x="491.01" y="401.91" width="3.9" height="3.9"/><rect x="491.61" y="401.94" width="3.9" height="3.9"/><rect x="492.21" y="401.97" width="3.9" height="3.9"/><rect x="492.81" y="402" width="3.9" height="3.9"/><rect x="493.41" y="402.03" width="3.9" height="3.9"/><rect x="494.01" y="402.06" width="3.9" height="3.9"/><rect x="494.61" y="402.09" width="3.9" height="3.9"/><rect x="495.21" y="402.12" width="3.9" height="3.9"/><rect x="495.81" y="402.15" width="3.9" height="3.9"/><rect x="496.41" y="402.18" width="3.9" height="3.9"/><rect x="497.01" y="402.22" width="3.9" height="3.9"/><rect x="497.6" y="402.25" width="3.9" height="3.9"/><rect x="498.2" y="402.28" width="3.9" height="3.9"/><rect x="498.8" y="402.31" width="3.9" height="3.9"/><rect x="499.4" y="402.34" width="3.9" height="3.9"/><rect x="500" y="402.37" width="3.9" height="3.9"/><rect x="500.6" y="402.4" width="3.9" height="3.9"/><rect x="501.2" y="402.43" width="3.9" height="3.9"/><rect x="501.8" y="402.46" width="3.9" height="3.9"/><rect x="502.4" y="402.49" width="3.9" height="3.9"/><rect x="503" y="402.52" width="3.9" height="3.9"/><rect x="503.6" y="402.55" width="3.9" height="3.9"/><rect x="504.2" y="402.58" width="3.9" height="3.9"/><rect x="504.8" y="402.61" width="3.9" height="3.9"/><rect x="505.39" y="402.64" width="3.9" height="3.9"/><rect x="505.99" y="402.67" width="3.9" height="3.9"/><rect x="506.59" y="402.7" width="3.9" height="3.9"/><rect x="507.19" y="402.73" width="3.9" height="3.9"/><rect x="507.79" y="402.76" width="3.9" height="3.9"/><rect x="508.39" y="402.79" width="3.9" height="3.9"/><rect x="508.99" y="402.83" width="3.9" height="3.9"/><rect x="509.59" y="402.86" width="3.9" height="3.9"/><rect x="510.19" y="402.89" width="3.9" height="3.9"/><rect x="510.79" y="402.92" width="3.9" height="3.9"/><rect x="511.39" y="402.95" width="3.9" height="3.9"/><rect x="511.99" y="402.98" width="3.9" height="3.9"/><rect x="512.59" y="403.01" width="3.9" height="3.9"/><rect x="513.18" y="403.04" width="3.9" height="3.9"/><rect x="513.78" y="403.07" width="3.9" height="3.9"/><rect x="514.38" y="403.1" width="3.9" height="3.9"/><rect x="514.98" y="403.13" width="3.9" height="3.9"/><rect x="515.58" y="403.16" width="3.9" height="3.9"/><rect x="516.18" y="403.19" width="3.9" height="3.9"/><rect x="516.78" y="403.22" width="3.9" height="3.9"/><rect x="517.38" y="403.25" width="3.9" height="3.9"/><rect x="517.98" y="403.28" width="3.9" height="3.9"/><rect x="518.58" y="403.31" width="3.9" height="3.9"/><rect x="519.18" y="403.34" width="3.9" height="3.9"/><rect x="519.78" y="403.37" width="3.9" height="3.9"/><rect x="520.38" y="403.4" width="3.9" height="3.9"/><rect x="520.97" y="403.44" width="3.9" height="3.9"/><rect x="521.57" y="403.47" width="3.9" height="3.9"/><rect x="522.17" y="403.5" width="3.9" height="3.9"/><rect x="522.77" y="403.53" width="3.9" height="3.9"/><rect x="523.37" y="403.56" width="3.9" height="3.9"/><rect x="523.97" y="403.59" width="3.9" height="3.9"/><rect x="524.57" y="403.62" width="3.9" height="3.9"/><rect x="525.17" y="403.65" width="3.9" height="3.9"/><rect x="525.77" y="403.68" width="3.9" height="3.9"/><rect x="526.37" y="403.71" width="3.9" height="3.9"/><rect x="526.97" y="403.74" width="3.9" height="3.9"/><rect x="527.57" y="403.77" width="3.9" height="3.9"/><rect x="528.17" y="403.8" width="3.9" height="3.9"/><rect x="528.76" y="403.83" width="3.9" height="3.9"/><rect x="529.36" y="403.86" width="3.9" height="3.9"/><rect x="529.96" y="403.89" width="3.9" height="3.9"/><rect x="530.56" y="403.92" width="3.9" height="3.9"/><rect x="531.16" y="403.95" width="3.9" height="3.9"/><rect x="531.76" y="403.98" width="3.9" height="3.9"/><rect x="532.36" y="404.01" width="3.9" height="3.9"/><rect x="532.96" y="404.05" width="3.9" height="3.9"/></g>
<polyline fill="none" stroke="#f8645e" stroke-width="0.9" points="331,525 337.6,536.7 340.9,523.1 343.6,529.6 346.4,524.7 348.5,541.6 350.2,522.5 352.4,526.9 356.2,520.9 357.8,532.4 360.5,526.4 361.6,538.9 362.7,520.9 364.4,531.8 367.1,524.7 370.9,523.6 373.6,529.6 374.7,536.2 376.3,531.3 378.5,526.4 380.2,530.2 381.3,523.6 384.5,520.9 386.7,526.4"/>
<g fill="#fff" stroke="#f8645e" stroke-width="1.1"><circle cx="337.6" cy="536.7" r="2"/><circle cx="340.9" cy="523.1" r="2"/><circle cx="343.6" cy="529.6" r="2"/><circle cx="346.4" cy="524.7" r="2"/><circle cx="348.5" cy="541.6" r="2"/><circle cx="350.2" cy="522.5" r="2"/><circle cx="352.4" cy="526.9" r="2"/><circle cx="356.2" cy="520.9" r="2"/><circle cx="357.8" cy="532.4" r="2"/><circle cx="360.5" cy="526.4" r="2"/><circle cx="361.6" cy="538.9" r="2"/><circle cx="362.7" cy="520.9" r="2"/><circle cx="364.4" cy="531.8" r="2"/><circle cx="367.1" cy="524.7" r="2"/><circle cx="370.9" cy="523.6" r="2"/><circle cx="373.6" cy="529.6" r="2"/><circle cx="374.7" cy="536.2" r="2"/><circle cx="376.3" cy="531.3" r="2"/><circle cx="378.5" cy="526.4" r="2"/><circle cx="380.2" cy="530.2" r="2"/><circle cx="381.3" cy="523.6" r="2"/><circle cx="384.5" cy="520.9" r="2"/><circle cx="386.7" cy="526.4" r="2"/></g>
<polyline fill="none" stroke="#f8645e" stroke-width="0.9" points="386.7,523 400.5,518.7 419.5,512.4 438.6,502.8 445,497.7 449.1,488.6 458.2,481.4 461.8,475 467.3,478.6 476.4,474.1 480.9,467.7 484.5,476.8 492.7,472.3 500,465 505.5,459.5 509.1,472.3 514.5,468.6 520,465 522.7,461.4 522.7,403"/>
<g fill="#fff" stroke="#f8645e" stroke-width="1.1"><circle cx="387.06" cy="524.2" r="2.1"/><circle cx="388.27" cy="523.53" r="2.1"/><circle cx="390.14" cy="521.64" r="2.1"/><circle cx="392.37" cy="520.06" r="2.1"/><circle cx="393.55" cy="521.74" r="2.1"/><circle cx="395.56" cy="519.74" r="2.1"/><circle cx="397.66" cy="520.14" r="2.1"/><circle cx="398.9" cy="518.55" r="2.1"/><circle cx="401.14" cy="518.42" r="2.1"/><circle cx="402.72" cy="518.12" r="2.1"/><circle cx="405.27" cy="516.94" r="2.1"/><circle cx="406.66" cy="515.53" r="2.1"/><circle cx="408.2" cy="516.57" r="2.1"/><circle cx="409.84" cy="516.64" r="2.1"/><circle cx="412.44" cy="513.67" r="2.1"/><circle cx="414.27" cy="513.9" r="2.1"/><circle cx="415.91" cy="514.45" r="2.1"/><circle cx="417.23" cy="513.61" r="2.1"/><circle cx="419.4" cy="513.4" r="2.1"/><circle cx="420.72" cy="512.43" r="2.1"/><circle cx="423.11" cy="511.33" r="2.1"/><circle cx="424.39" cy="508.8" r="2.1"/><circle cx="426.04" cy="508.67" r="2.1"/><circle cx="427.96" cy="508.79" r="2.1"/><circle cx="429.51" cy="506.45" r="2.1"/><circle cx="431.29" cy="506.94" r="2.1"/><circle cx="432.52" cy="506.87" r="2.1"/><circle cx="434.69" cy="503.71" r="2.1"/><circle cx="436.67" cy="502.91" r="2.1"/><circle cx="437.76" cy="503.8" r="2.1"/><circle cx="439.6" cy="502.25" r="2.1"/><circle cx="441.13" cy="500.77" r="2.1"/><circle cx="442.28" cy="498.74" r="2.1"/><circle cx="443.53" cy="499.18" r="2.1"/><circle cx="445.49" cy="497.31" r="2.1"/><circle cx="446.25" cy="495.03" r="2.1"/><circle cx="446.56" cy="493.37" r="2.1"/><circle cx="447.95" cy="490.61" r="2.1"/><circle cx="448.36" cy="489.49" r="2.1"/><circle cx="449.44" cy="488.11" r="2.1"/><circle cx="450.49" cy="487.08" r="2.1"/><circle cx="452.19" cy="487" r="2.1"/><circle cx="453.49" cy="486.05" r="2.1"/><circle cx="454.74" cy="483.14" r="2.1"/><circle cx="456.22" cy="481.49" r="2.1"/><circle cx="458.39" cy="482.15" r="2.1"/><circle cx="458.76" cy="478.91" r="2.1"/><circle cx="459.92" cy="478.92" r="2.1"/><circle cx="461.25" cy="477.28" r="2.1"/><circle cx="462.01" cy="474.02" r="2.1"/><circle cx="463.41" cy="475.2" r="2.1"/><circle cx="465.12" cy="477.36" r="2.1"/><circle cx="466.39" cy="477.45" r="2.1"/><circle cx="468.63" cy="476.67" r="2.1"/><circle cx="470.35" cy="478.41" r="2.1"/><circle cx="472.2" cy="476.05" r="2.1"/><circle cx="473.51" cy="475.81" r="2.1"/><circle cx="475.29" cy="476.14" r="2.1"/><circle cx="476.88" cy="473.08" r="2.1"/><circle cx="478.15" cy="472.08" r="2.1"/><circle cx="478.98" cy="471.25" r="2.1"/><circle cx="479.48" cy="469.83" r="2.1"/><circle cx="481.17" cy="467.95" r="2.1"/><circle cx="481.73" cy="469.62" r="2.1"/><circle cx="482.1" cy="471.59" r="2.1"/><circle cx="482.64" cy="473.27" r="2.1"/><circle cx="483.95" cy="474.87" r="2.1"/><circle cx="484.57" cy="478.17" r="2.1"/><circle cx="486.56" cy="474.79" r="2.1"/><circle cx="488.13" cy="475.34" r="2.1"/><circle cx="489.05" cy="473.64" r="2.1"/><circle cx="490.9" cy="471.87" r="2.1"/><circle cx="492.85" cy="473.48" r="2.1"/><circle cx="493.97" cy="471.96" r="2.1"/><circle cx="495.69" cy="468.41" r="2.1"/><circle cx="497.2" cy="468.47" r="2.1"/><circle cx="498.61" cy="467.47" r="2.1"/><circle cx="499.76" cy="465.01" r="2.1"/><circle cx="501.17" cy="465.43" r="2.1"/><circle cx="502.57" cy="462.6" r="2.1"/><circle cx="503.81" cy="461.4" r="2.1"/><circle cx="504.51" cy="458.73" r="2.1"/><circle cx="505.36" cy="459.61" r="2.1"/><circle cx="505.96" cy="462.33" r="2.1"/><circle cx="507.01" cy="464.28" r="2.1"/><circle cx="507.25" cy="466.45" r="2.1"/><circle cx="507.65" cy="467.72" r="2.1"/><circle cx="508.61" cy="469.36" r="2.1"/><circle cx="508.55" cy="472.68" r="2.1"/><circle cx="510.19" cy="471.31" r="2.1"/><circle cx="511.41" cy="470.72" r="2.1"/><circle cx="513.2" cy="468.73" r="2.1"/><circle cx="514.18" cy="467.61" r="2.1"/><circle cx="516.55" cy="466.38" r="2.1"/><circle cx="517.81" cy="465.49" r="2.1"/><circle cx="519.15" cy="464.38" r="2.1"/><circle cx="520.64" cy="463.02" r="2.1"/><circle cx="521.41" cy="461.32" r="2.1"/></g>
<g fill="#f8645e" stroke="#f8645e" stroke-width="1.1"><circle cx="522.7" cy="403" r="2.4"/><circle cx="523.3" cy="403" r="2.4"/><circle cx="523.9" cy="403" r="2.4"/><circle cx="524.5" cy="403" r="2.4"/><circle cx="525.1" cy="403" r="2.4"/><circle cx="525.7" cy="403" r="2.4"/><circle cx="526.3" cy="403" r="2.4"/><circle cx="526.9" cy="403" r="2.4"/><circle cx="527.5" cy="403" r="2.4"/><circle cx="528.1" cy="403" r="2.4"/><circle cx="528.7" cy="403" r="2.4"/><circle cx="529.3" cy="403" r="2.4"/><circle cx="529.9" cy="403" r="2.4"/><circle cx="530.5" cy="403" r="2.4"/><circle cx="531.1" cy="403" r="2.4"/><circle cx="531.7" cy="403" r="2.4"/><circle cx="532.3" cy="403" r="2.4"/><circle cx="532.9" cy="403" r="2.4"/><circle cx="533.5" cy="403" r="2.4"/></g>
<line x1="366" y1="506" x2="433" y2="481.6" stroke="#000" stroke-width="1.9"/>
<line x1="381.4" y1="525.7" x2="446" y2="500.3" stroke="#000" stroke-width="1.9"/>
<line x1="431.6" y1="512.4" x2="490" y2="461.4" stroke="#000" stroke-width="1.9"/>
</g>
<rect x="331.7" y="381.6" width="203.5" height="176.4" fill="none" stroke="#000" stroke-width="1.3"/>
<rect x="49.7" y="616" width="203" height="176" fill="none" stroke="#000" stroke-width="1.3"/>
<line x1="49.7" y1="616" x2="52.7" y2="616" stroke="#000" stroke-width="1.1"/>
<text x="45.1" y="619.8" font-size="11" text-anchor="end" font-weight="bold" >5</text>
<line x1="49.7" y1="654.25" x2="52.7" y2="654.25" stroke="#000" stroke-width="1.1"/>
<text x="45.1" y="658.05" font-size="11" text-anchor="end" font-weight="bold" >0</text>
<line x1="49.7" y1="692.5" x2="52.7" y2="692.5" stroke="#000" stroke-width="1.1"/>
<text x="45.1" y="696.3" font-size="11" text-anchor="end" font-weight="bold" >&#8722;5</text>
<line x1="49.7" y1="730.75" x2="52.7" y2="730.75" stroke="#000" stroke-width="1.1"/>
<text x="45.1" y="734.55" font-size="11" text-anchor="end" font-weight="bold" >&#8722;10</text>
<line x1="49.7" y1="769" x2="52.7" y2="769" stroke="#000" stroke-width="1.1"/>
<text x="45.1" y="772.8" font-size="11" text-anchor="end" font-weight="bold" >&#8722;15</text>
<line x1="49.7" y1="635.12" x2="51.5" y2="635.12" stroke="#000" stroke-width="0.9"/>
<line x1="49.7" y1="673.38" x2="51.5" y2="673.38" stroke="#000" stroke-width="0.9"/>
<line x1="49.7" y1="711.62" x2="51.5" y2="711.62" stroke="#000" stroke-width="0.9"/>
<line x1="49.7" y1="749.88" x2="51.5" y2="749.88" stroke="#000" stroke-width="0.9"/>
<line x1="49.7" y1="788.12" x2="51.5" y2="788.12" stroke="#000" stroke-width="0.9"/>
<line x1="49.7" y1="792" x2="49.7" y2="789" stroke="#000" stroke-width="1.0"/>
<line x1="76.77" y1="792" x2="76.77" y2="790.2" stroke="#000" stroke-width="1.0"/>
<line x1="103.83" y1="792" x2="103.83" y2="790.2" stroke="#000" stroke-width="1.0"/>
<line x1="130.9" y1="792" x2="130.9" y2="789" stroke="#000" stroke-width="1.0"/>
<line x1="157.97" y1="792" x2="157.97" y2="790.2" stroke="#000" stroke-width="1.0"/>
<line x1="185.03" y1="792" x2="185.03" y2="790.2" stroke="#000" stroke-width="1.0"/>
<line x1="212.1" y1="792" x2="212.1" y2="789" stroke="#000" stroke-width="1.0"/>
<line x1="239.17" y1="792" x2="239.17" y2="790.2" stroke="#000" stroke-width="1.0"/>
<text x="49.7" y="804.2" font-size="10.7" text-anchor="middle" font-weight="bold" >1.8</text>
<text x="130.9" y="804.2" font-size="10.7" text-anchor="middle" font-weight="bold" >2.0</text>
<text x="212.1" y="804.2" font-size="10.7" text-anchor="middle" font-weight="bold" >2.2</text>
<text x="2.8" y="605.5" font-size="23.5" text-anchor="start" font-weight="bold" letter-spacing="1">(d)</text>
<text x="57.4" y="632.2" font-size="12.7" text-anchor="start" font-weight="bold" >SE</text>
<text x="151.5" y="826.3" font-size="14.9" font-weight="bold" text-anchor="middle">E<tspan dy="-5.2" dx="1" font-size="8.7">1/2</tspan><tspan dy="5.2"> (MV/cm)</tspan><tspan dy="-5.2" font-size="8.7">1/2</tspan></text>
<text transform="translate(21.5,739.4) rotate(-90)" font-size="13.8" font-weight="bold">ln<tspan dx="8" font-weight="normal">(</tspan><tspan dx="1.5">J</tspan><tspan dx="1.5" font-weight="normal">)</tspan><tspan dx="13.5">(A)</tspan></text>
<line x1="162.4" y1="761.1" x2="190" y2="761.1" stroke="#6b97d4" stroke-width="1.0"/>
<g fill="#fff" stroke="#6b97d4" stroke-width="1.0"><rect x="174.5" y="759.4" width="3.4" height="3.4"/></g>
<line x1="162.4" y1="778.3" x2="190" y2="778.3" stroke="#f8645e" stroke-width="1.0"/>
<g fill="#fff" stroke="#f8645e" stroke-width="1.0"><circle cx="176.2" cy="778.3" r="2.2"/></g>
<text x="193.1" y="765.56" font-size="12.4" font-weight="bold">HfO<tspan dy="3.1" font-size="8.68">2</tspan></text>
<text x="193.1" y="782.76" font-size="12.4" font-weight="bold">SiO<tspan dy="3.1" font-size="8.68">2</tspan><tspan dy="-3.1">/HfO</tspan><tspan dy="3.1" font-size="8.68">2</tspan></text>
<g clip-path="url(#cD)">
<polyline fill="none" stroke="#6b97d4" stroke-width="0.9" points="50.5,734.3 59.1,732.5 66.6,728.8 75.8,723.2 85.1,716.7 90.7,711.1 94.2,706.5 97.2,682.5 105.5,682.5 107.4,671.7 132.4,671.7 134.3,657.5 136.8,658 143.6,652.3 152.7,648.9 175.5,645.5 198.2,641.4 252,641.4"/>
<g fill="#fff" stroke="#6b97d4" stroke-width="1.1"><rect x="48.6" y="732.4" width="3.8" height="3.8"/><rect x="51.93" y="731.7" width="3.8" height="3.8"/><rect x="55.26" y="731.01" width="3.8" height="3.8"/><rect x="58.47" y="729.97" width="3.8" height="3.8"/><rect x="61.52" y="728.47" width="3.8" height="3.8"/><rect x="64.57" y="726.97" width="3.8" height="3.8"/><rect x="67.48" y="725.21" width="3.8" height="3.8"/><rect x="70.38" y="723.44" width="3.8" height="3.8"/><rect x="73.29" y="721.67" width="3.8" height="3.8"/><rect x="76.1" y="719.76" width="3.8" height="3.8"/><rect x="78.88" y="717.82" width="3.8" height="3.8"/><rect x="81.67" y="715.87" width="3.8" height="3.8"/><rect x="84.28" y="713.72" width="3.8" height="3.8"/><rect x="86.69" y="711.31" width="3.8" height="3.8"/><rect x="89.05" y="708.87" width="3.8" height="3.8"/><rect x="91.11" y="706.16" width="3.8" height="3.8"/></g>
<g fill="#fff" stroke="#6b97d4" stroke-width="1.1"><rect x="95.3" y="680.6" width="3.8" height="3.8"/><rect x="98.1" y="680.6" width="3.8" height="3.8"/><rect x="100.9" y="680.6" width="3.8" height="3.8"/></g>
<g fill="#fff" stroke="#6b97d4" stroke-width="1.1"><rect x="104.6" y="669.8" width="3.8" height="3.8"/><rect x="107.5" y="669.8" width="3.8" height="3.8"/><rect x="110.4" y="669.8" width="3.8" height="3.8"/><rect x="113.3" y="669.8" width="3.8" height="3.8"/><rect x="116.2" y="669.8" width="3.8" height="3.8"/><rect x="119.1" y="669.8" width="3.8" height="3.8"/><rect x="122" y="669.8" width="3.8" height="3.8"/><rect x="124.9" y="669.8" width="3.8" height="3.8"/><rect x="127.8" y="669.8" width="3.8" height="3.8"/></g>
<g fill="#fff" stroke="#6b97d4" stroke-width="1.1"><rect x="132.4" y="655.6" width="3.8" height="3.8"/><rect x="134.6" y="655.6" width="3.8" height="3.8"/><rect x="136.8" y="655.6" width="3.8" height="3.8"/><rect x="141.7" y="650.4" width="3.8" height="3.8"/><rect x="143.95" y="649.56" width="3.8" height="3.8"/><rect x="146.2" y="648.72" width="3.8" height="3.8"/><rect x="148.44" y="647.88" width="3.8" height="3.8"/><rect x="150.69" y="647.04" width="3.8" height="3.8"/><rect x="153.06" y="646.66" width="3.8" height="3.8"/><rect x="155.43" y="646.31" width="3.8" height="3.8"/><rect x="157.81" y="645.95" width="3.8" height="3.8"/><rect x="160.18" y="645.6" width="3.8" height="3.8"/><rect x="162.56" y="645.25" width="3.8" height="3.8"/><rect x="164.93" y="644.89" width="3.8" height="3.8"/><rect x="167.3" y="644.54" width="3.8" height="3.8"/><rect x="169.68" y="644.19" width="3.8" height="3.8"/><rect x="172.05" y="643.83" width="3.8" height="3.8"/><rect x="174.42" y="643.45" width="3.8" height="3.8"/><rect x="176.78" y="643.03" width="3.8" height="3.8"/><rect x="179.14" y="642.6" width="3.8" height="3.8"/><rect x="181.51" y="642.17" width="3.8" height="3.8"/><rect x="183.87" y="641.75" width="3.8" height="3.8"/><rect x="186.23" y="641.32" width="3.8" height="3.8"/><rect x="188.59" y="640.89" width="3.8" height="3.8"/><rect x="190.95" y="640.47" width="3.8" height="3.8"/><rect x="193.31" y="640.04" width="3.8" height="3.8"/><rect x="195.68" y="639.61" width="3.8" height="3.8"/><rect x="196.3" y="639.5" width="3.8" height="3.8"/><rect x="199.3" y="639.5" width="3.8" height="3.8"/><rect x="202.3" y="639.5" width="3.8" height="3.8"/><rect x="205.3" y="639.5" width="3.8" height="3.8"/><rect x="208.3" y="639.5" width="3.8" height="3.8"/><rect x="211.3" y="639.5" width="3.8" height="3.8"/><rect x="214.3" y="639.5" width="3.8" height="3.8"/><rect x="217.3" y="639.5" width="3.8" height="3.8"/><rect x="220.3" y="639.5" width="3.8" height="3.8"/><rect x="223.3" y="639.5" width="3.8" height="3.8"/><rect x="226.3" y="639.5" width="3.8" height="3.8"/><rect x="229.3" y="639.5" width="3.8" height="3.8"/><rect x="232.3" y="639.5" width="3.8" height="3.8"/><rect x="235.3" y="639.5" width="3.8" height="3.8"/><rect x="238.3" y="639.5" width="3.8" height="3.8"/><rect x="241.3" y="639.5" width="3.8" height="3.8"/><rect x="244.3" y="639.5" width="3.8" height="3.8"/><rect x="247.3" y="639.5" width="3.8" height="3.8"/></g>
<polyline fill="none" stroke="#f8645e" stroke-width="0.9" points="50.5,779.8 55.4,777.9 59.1,779.8 61.9,776 66.6,775.1 73,777.9 78.6,770.5 84.2,773.3 89.7,767.7 94.4,769.6 103.7,764 109.2,759.4 112,753.8 114.8,757.5 122.2,756.6 127.8,756.6 131.5,751 138.9,746.4 146.3,747.3 151.9,736.3 159.5,742 167.2,748.7 172.9,744.9 178.6,738.2 188.2,738.2 192,741 199.6,735.3 207.3,733.4 216.8,730.5 219.7,724.8 226.4,726.7 228.3,735.3 237.8,735.3 241.6,738.2 251.2,734.4"/>
<g fill="#fff" stroke="#f8645e" stroke-width="1.15"><circle cx="50.5" cy="779.8" r="2.2"/><circle cx="54.42" cy="778.28" r="2.2"/><circle cx="58.2" cy="779.34" r="2.2"/><circle cx="60.99" cy="777.24" r="2.2"/><circle cx="64.52" cy="775.5" r="2.2"/><circle cx="68.51" cy="775.93" r="2.2"/><circle cx="72.35" cy="777.62" r="2.2"/><circle cx="75.11" cy="775.11" r="2.2"/><circle cx="77.64" cy="771.76" r="2.2"/><circle cx="80.94" cy="771.67" r="2.2"/><circle cx="84.59" cy="772.91" r="2.2"/><circle cx="87.53" cy="769.91" r="2.2"/><circle cx="90.72" cy="768.11" r="2.2"/><circle cx="94.6" cy="769.48" r="2.2"/><circle cx="98.2" cy="767.31" r="2.2"/><circle cx="101.8" cy="765.15" r="2.2"/><circle cx="105.22" cy="762.73" r="2.2"/><circle cx="108.44" cy="760.04" r="2.2"/><circle cx="110.63" cy="756.53" r="2.2"/><circle cx="112.69" cy="754.71" r="2.2"/><circle cx="115.5" cy="757.41" r="2.2"/><circle cx="119.67" cy="756.91" r="2.2"/><circle cx="123.85" cy="756.6" r="2.2"/><circle cx="127.94" cy="756.39" r="2.2"/><circle cx="130.25" cy="752.89" r="2.2"/><circle cx="133.15" cy="749.98" r="2.2"/><circle cx="136.72" cy="747.76" r="2.2"/><circle cx="140.52" cy="746.6" r="2.2"/><circle cx="144.68" cy="747.1" r="2.2"/><circle cx="147.47" cy="745.01" r="2.2"/><circle cx="149.37" cy="741.26" r="2.2"/><circle cx="151.28" cy="737.52" r="2.2"/><circle cx="154.16" cy="738" r="2.2"/><circle cx="157.52" cy="740.52" r="2.2"/><circle cx="160.8" cy="743.14" r="2.2"/><circle cx="163.97" cy="745.89" r="2.2"/><circle cx="167.14" cy="748.65" r="2.2"/><circle cx="170.63" cy="746.41" r="2.2"/><circle cx="173.85" cy="743.78" r="2.2"/><circle cx="176.58" cy="740.58" r="2.2"/><circle cx="179.68" cy="738.2" r="2.2"/><circle cx="183.88" cy="738.2" r="2.2"/><circle cx="188.08" cy="738.2" r="2.2"/><circle cx="191.48" cy="740.62" r="2.2"/><circle cx="194.84" cy="738.87" r="2.2"/><circle cx="198.2" cy="736.35" r="2.2"/><circle cx="201.98" cy="734.71" r="2.2"/><circle cx="206.06" cy="733.71" r="2.2"/><circle cx="210.1" cy="732.55" r="2.2"/><circle cx="214.11" cy="731.32" r="2.2"/><circle cx="217.43" cy="729.26" r="2.2"/><circle cx="219.34" cy="725.52" r="2.2"/><circle cx="222.97" cy="725.73" r="2.2"/><circle cx="226.54" cy="727.32" r="2.2"/><circle cx="227.44" cy="731.42" r="2.2"/><circle cx="228.52" cy="735.3" r="2.2"/><circle cx="232.72" cy="735.3" r="2.2"/><circle cx="236.92" cy="735.3" r="2.2"/><circle cx="240.44" cy="737.32" r="2.2"/><circle cx="244.15" cy="737.19" r="2.2"/><circle cx="248.06" cy="735.64" r="2.2"/></g>
<line x1="118.5" y1="659.9" x2="222.5" y2="635.9" stroke="#000" stroke-width="1.9"/>
</g>
<rect x="49.7" y="616" width="203" height="176" fill="none" stroke="#000" stroke-width="1.3"/>
<rect x="333.2" y="616" width="202.8" height="175" fill="none" stroke="#000" stroke-width="1.3"/>
<line x1="333.2" y1="791" x2="336.2" y2="791" stroke="#000" stroke-width="1.1"/>
<line x1="333.2" y1="778.5" x2="335" y2="778.5" stroke="#000" stroke-width="0.9"/>
<text x="328.9" y="794.8" font-size="11" text-anchor="end" font-weight="bold" >&#8722;55</text>
<line x1="333.2" y1="766" x2="336.2" y2="766" stroke="#000" stroke-width="1.1"/>
<line x1="333.2" y1="753.5" x2="335" y2="753.5" stroke="#000" stroke-width="0.9"/>
<text x="328.9" y="769.8" font-size="11" text-anchor="end" font-weight="bold" >&#8722;50</text>
<line x1="333.2" y1="741" x2="336.2" y2="741" stroke="#000" stroke-width="1.1"/>
<line x1="333.2" y1="728.5" x2="335" y2="728.5" stroke="#000" stroke-width="0.9"/>
<text x="328.9" y="744.8" font-size="11" text-anchor="end" font-weight="bold" >&#8722;45</text>
<line x1="333.2" y1="716" x2="336.2" y2="716" stroke="#000" stroke-width="1.1"/>
<line x1="333.2" y1="703.5" x2="335" y2="703.5" stroke="#000" stroke-width="0.9"/>
<text x="328.9" y="719.8" font-size="11" text-anchor="end" font-weight="bold" >&#8722;40</text>
<line x1="333.2" y1="691" x2="336.2" y2="691" stroke="#000" stroke-width="1.1"/>
<line x1="333.2" y1="678.5" x2="335" y2="678.5" stroke="#000" stroke-width="0.9"/>
<text x="328.9" y="694.8" font-size="11" text-anchor="end" font-weight="bold" >&#8722;35</text>
<line x1="333.2" y1="666" x2="336.2" y2="666" stroke="#000" stroke-width="1.1"/>
<line x1="333.2" y1="653.5" x2="335" y2="653.5" stroke="#000" stroke-width="0.9"/>
<text x="328.9" y="669.8" font-size="11" text-anchor="end" font-weight="bold" >&#8722;30</text>
<line x1="333.2" y1="641" x2="336.2" y2="641" stroke="#000" stroke-width="1.1"/>
<line x1="333.2" y1="628.5" x2="335" y2="628.5" stroke="#000" stroke-width="0.9"/>
<text x="328.9" y="644.8" font-size="11" text-anchor="end" font-weight="bold" >&#8722;25</text>
<line x1="333.2" y1="616" x2="336.2" y2="616" stroke="#000" stroke-width="1.1"/>
<text x="328.9" y="619.8" font-size="11" text-anchor="end" font-weight="bold" >&#8722;20</text>
<line x1="333.2" y1="791" x2="333.2" y2="788" stroke="#000" stroke-width="1.0"/>
<line x1="347.7" y1="791" x2="347.7" y2="789.2" stroke="#000" stroke-width="1.0"/>
<line x1="362.2" y1="791" x2="362.2" y2="788" stroke="#000" stroke-width="1.0"/>
<line x1="376.7" y1="791" x2="376.7" y2="789.2" stroke="#000" stroke-width="1.0"/>
<line x1="391.2" y1="791" x2="391.2" y2="788" stroke="#000" stroke-width="1.0"/>
<line x1="405.7" y1="791" x2="405.7" y2="789.2" stroke="#000" stroke-width="1.0"/>
<line x1="420.2" y1="791" x2="420.2" y2="788" stroke="#000" stroke-width="1.0"/>
<line x1="434.7" y1="791" x2="434.7" y2="789.2" stroke="#000" stroke-width="1.0"/>
<line x1="449.2" y1="791" x2="449.2" y2="788" stroke="#000" stroke-width="1.0"/>
<line x1="463.7" y1="791" x2="463.7" y2="789.2" stroke="#000" stroke-width="1.0"/>
<line x1="478.2" y1="791" x2="478.2" y2="788" stroke="#000" stroke-width="1.0"/>
<line x1="492.7" y1="791" x2="492.7" y2="789.2" stroke="#000" stroke-width="1.0"/>
<line x1="507.2" y1="791" x2="507.2" y2="788" stroke="#000" stroke-width="1.0"/>
<line x1="521.7" y1="791" x2="521.7" y2="789.2" stroke="#000" stroke-width="1.0"/>
<line x1="536.2" y1="791" x2="536.2" y2="788" stroke="#000" stroke-width="1.0"/>
<text x="333.2" y="802.7" font-size="10.7" text-anchor="middle" font-weight="bold" >0.15</text>
<text x="362.2" y="802.7" font-size="10.7" text-anchor="middle" font-weight="bold" >0.20</text>
<text x="391.2" y="802.7" font-size="10.7" text-anchor="middle" font-weight="bold" >0.25</text>
<text x="420.2" y="802.7" font-size="10.7" text-anchor="middle" font-weight="bold" >0.30</text>
<text x="449.2" y="802.7" font-size="10.7" text-anchor="middle" font-weight="bold" >0.35</text>
<text x="478.2" y="802.7" font-size="10.7" text-anchor="middle" font-weight="bold" >0.40</text>
<text x="507.2" y="802.7" font-size="10.7" text-anchor="middle" font-weight="bold" >0.45</text>
<text x="536.2" y="802.7" font-size="10.7" text-anchor="middle" font-weight="bold" >0.50</text>
<text x="264.4" y="605.5" font-size="23.5" text-anchor="start" font-weight="bold" letter-spacing="0.6">(e)</text>
<text x="339.3" y="633.6" font-size="12.7" text-anchor="start" font-weight="bold" >F-N</text>
<text x="434.4" y="824.8" font-size="14.3" font-weight="bold" text-anchor="middle">1/E<tspan dy="3.2" font-size="10.2">OX</tspan><tspan dy="-3.2"> (cm/MV)</tspan></text>
<text transform="translate(306,753.8) rotate(-90)" font-size="13.8" font-weight="bold">ln<tspan dx="8.5" font-weight="normal">(</tspan><tspan dx="2">J/E</tspan><tspan dy="-5.5" font-size="9.5">2</tspan><tspan dy="5.5" dx="1.5" font-weight="normal">)</tspan><tspan dx="1">/(A/V</tspan><tspan dy="-5.5" font-size="9.5">2</tspan><tspan dy="5.5">)</tspan></text>
<line x1="442" y1="632" x2="470" y2="632" stroke="#6b97d4" stroke-width="1.0"/>
<g fill="#fff" stroke="#6b97d4" stroke-width="1.0"><rect x="454.3" y="630.3" width="3.4" height="3.4"/></g>
<line x1="442" y1="650" x2="470" y2="650" stroke="#f8645e" stroke-width="1.0"/>
<g fill="#fff" stroke="#f8645e" stroke-width="1.0"><circle cx="456" cy="650" r="2.2"/></g>
<text x="473.2" y="636.46" font-size="12.4" font-weight="bold">HfO<tspan dy="3.1" font-size="8.68">2</tspan></text>
<text x="473.2" y="654.46" font-size="12.4" font-weight="bold">SiO<tspan dy="3.1" font-size="8.68">2</tspan><tspan dy="-3.1">/HfO</tspan><tspan dy="3.1" font-size="8.68">2</tspan></text>
<g clip-path="url(#cE)">
<polyline fill="none" stroke="#6b97d4" stroke-width="0.9" points="334,665 362.7,660.9 373.6,663.1 384.5,668.5 388.2,671 389.5,678.2 400.6,678.2 403,685.5 404.5,700.9 406,705 408,709 411,712 414,715 419.7,718.5 435,723.9 450,728 470,731 490,734 510,736 534,737"/>
<g fill="#fff" stroke="#6b97d4" stroke-width="1.0"><rect x="529.28" y="735.08" width="3.6" height="3.6"/><rect x="525.69" y="734.93" width="3.6" height="3.6"/><rect x="522.09" y="734.78" width="3.6" height="3.6"/><rect x="518.49" y="734.63" width="3.6" height="3.6"/><rect x="514.9" y="734.48" width="3.6" height="3.6"/><rect x="511.3" y="734.33" width="3.6" height="3.6"/><rect x="507.7" y="734.15" width="3.6" height="3.6"/><rect x="504.12" y="733.79" width="3.6" height="3.6"/><rect x="500.54" y="733.43" width="3.6" height="3.6"/><rect x="496.96" y="733.08" width="3.6" height="3.6"/><rect x="493.38" y="732.72" width="3.6" height="3.6"/><rect x="489.79" y="732.36" width="3.6" height="3.6"/><rect x="486.22" y="731.9" width="3.6" height="3.6"/><rect x="482.66" y="731.37" width="3.6" height="3.6"/><rect x="479.1" y="730.84" width="3.6" height="3.6"/><rect x="475.54" y="730.3" width="3.6" height="3.6"/><rect x="471.98" y="729.77" width="3.6" height="3.6"/><rect x="468.42" y="729.23" width="3.6" height="3.6"/><rect x="464.86" y="728.7" width="3.6" height="3.6"/><rect x="461.3" y="728.17" width="3.6" height="3.6"/><rect x="457.74" y="727.63" width="3.6" height="3.6"/><rect x="454.18" y="727.1" width="3.6" height="3.6"/><rect x="450.62" y="726.56" width="3.6" height="3.6"/><rect x="447.09" y="725.9" width="3.6" height="3.6"/><rect x="443.62" y="724.95" width="3.6" height="3.6"/><rect x="440.15" y="724" width="3.6" height="3.6"/><rect x="436.67" y="723.05" width="3.6" height="3.6"/><rect x="433.2" y="722.1" width="3.6" height="3.6"/><rect x="432.03" y="721.69" width="3.6" height="3.6"/><rect x="429.58" y="720.82" width="3.6" height="3.6"/><rect x="427.13" y="719.96" width="3.6" height="3.6"/><rect x="424.68" y="719.09" width="3.6" height="3.6"/><rect x="422.23" y="718.23" width="3.6" height="3.6"/><rect x="419.77" y="717.36" width="3.6" height="3.6"/><rect x="417.38" y="716.38" width="3.6" height="3.6"/><rect x="415.16" y="715.02" width="3.6" height="3.6"/><rect x="412.95" y="713.66" width="3.6" height="3.6"/><rect x="410.98" y="711.98" width="3.6" height="3.6"/><rect x="409.14" y="710.14" width="3.6" height="3.6"/><rect x="407.3" y="708.3" width="3.6" height="3.6"/><rect x="405.74" y="706.27" width="3.6" height="3.6"/><rect x="404.57" y="703.95" width="3.6" height="3.6"/><rect x="403.59" y="701.54" width="3.6" height="3.6"/><rect x="402.7" y="699.1" width="3.6" height="3.6"/></g>
<g fill="#fff" stroke="#6b97d4" stroke-width="1.1"><rect x="401.7" y="683.7" width="3.6" height="3.6"/><rect x="400.7" y="683.7" width="3.6" height="3.6"/><rect x="399.7" y="683.7" width="3.6" height="3.6"/><rect x="398.7" y="683.7" width="3.6" height="3.6"/></g>
<g fill="#fff" stroke="#6b97d4" stroke-width="1.1"><rect x="397.3" y="676.4" width="3.6" height="3.6"/><rect x="396.1" y="676.4" width="3.6" height="3.6"/><rect x="394.9" y="676.4" width="3.6" height="3.6"/><rect x="393.7" y="676.4" width="3.6" height="3.6"/><rect x="392.5" y="676.4" width="3.6" height="3.6"/><rect x="391.3" y="676.4" width="3.6" height="3.6"/><rect x="390.1" y="676.4" width="3.6" height="3.6"/><rect x="388.9" y="676.4" width="3.6" height="3.6"/><rect x="387.7" y="676.4" width="3.6" height="3.6"/></g>
<g fill="#fff" stroke="#6b97d4" stroke-width="1.2"><rect x="386.02" y="668.91" width="3.8" height="3.8"/><rect x="385.52" y="668.57" width="3.8" height="3.8"/><rect x="385.02" y="668.24" width="3.8" height="3.8"/><rect x="384.53" y="667.9" width="3.8" height="3.8"/><rect x="384.03" y="667.57" width="3.8" height="3.8"/><rect x="383.53" y="667.23" width="3.8" height="3.8"/><rect x="383.03" y="666.89" width="3.8" height="3.8"/><rect x="382.53" y="666.57" width="3.8" height="3.8"/><rect x="381.99" y="666.3" width="3.8" height="3.8"/><rect x="381.46" y="666.03" width="3.8" height="3.8"/><rect x="380.92" y="665.77" width="3.8" height="3.8"/><rect x="380.38" y="665.5" width="3.8" height="3.8"/><rect x="379.84" y="665.23" width="3.8" height="3.8"/><rect x="379.31" y="664.97" width="3.8" height="3.8"/><rect x="378.77" y="664.7" width="3.8" height="3.8"/><rect x="378.23" y="664.44" width="3.8" height="3.8"/><rect x="377.69" y="664.17" width="3.8" height="3.8"/><rect x="377.16" y="663.9" width="3.8" height="3.8"/><rect x="376.62" y="663.64" width="3.8" height="3.8"/><rect x="376.08" y="663.37" width="3.8" height="3.8"/><rect x="375.54" y="663.1" width="3.8" height="3.8"/><rect x="375.01" y="662.84" width="3.8" height="3.8"/><rect x="374.47" y="662.57" width="3.8" height="3.8"/><rect x="373.93" y="662.3" width="3.8" height="3.8"/><rect x="373.39" y="662.04" width="3.8" height="3.8"/><rect x="372.85" y="661.77" width="3.8" height="3.8"/><rect x="372.32" y="661.51" width="3.8" height="3.8"/><rect x="371.78" y="661.24" width="3.8" height="3.8"/><rect x="371.2" y="661.1" width="3.8" height="3.8"/><rect x="370.61" y="660.98" width="3.8" height="3.8"/><rect x="370.02" y="660.86" width="3.8" height="3.8"/><rect x="369.43" y="660.74" width="3.8" height="3.8"/><rect x="368.85" y="660.62" width="3.8" height="3.8"/><rect x="368.26" y="660.51" width="3.8" height="3.8"/><rect x="367.67" y="660.39" width="3.8" height="3.8"/><rect x="367.08" y="660.27" width="3.8" height="3.8"/><rect x="366.49" y="660.15" width="3.8" height="3.8"/><rect x="365.91" y="660.03" width="3.8" height="3.8"/><rect x="365.32" y="659.91" width="3.8" height="3.8"/><rect x="364.73" y="659.79" width="3.8" height="3.8"/><rect x="364.14" y="659.67" width="3.8" height="3.8"/><rect x="363.55" y="659.56" width="3.8" height="3.8"/><rect x="362.96" y="659.44" width="3.8" height="3.8"/><rect x="362.38" y="659.32" width="3.8" height="3.8"/><rect x="361.79" y="659.2" width="3.8" height="3.8"/><rect x="361.2" y="659.08" width="3.8" height="3.8"/><rect x="360.61" y="659.03" width="3.8" height="3.8"/><rect x="360.02" y="659.11" width="3.8" height="3.8"/><rect x="359.42" y="659.2" width="3.8" height="3.8"/><rect x="358.83" y="659.28" width="3.8" height="3.8"/><rect x="358.23" y="659.37" width="3.8" height="3.8"/><rect x="357.64" y="659.45" width="3.8" height="3.8"/><rect x="357.05" y="659.54" width="3.8" height="3.8"/><rect x="356.45" y="659.62" width="3.8" height="3.8"/><rect x="355.86" y="659.71" width="3.8" height="3.8"/><rect x="355.26" y="659.79" width="3.8" height="3.8"/><rect x="354.67" y="659.88" width="3.8" height="3.8"/><rect x="354.08" y="659.96" width="3.8" height="3.8"/><rect x="353.48" y="660.05" width="3.8" height="3.8"/><rect x="352.89" y="660.13" width="3.8" height="3.8"/><rect x="352.29" y="660.22" width="3.8" height="3.8"/><rect x="351.7" y="660.3" width="3.8" height="3.8"/><rect x="351.11" y="660.38" width="3.8" height="3.8"/><rect x="350.51" y="660.47" width="3.8" height="3.8"/><rect x="349.92" y="660.55" width="3.8" height="3.8"/><rect x="349.33" y="660.64" width="3.8" height="3.8"/><rect x="348.73" y="660.72" width="3.8" height="3.8"/><rect x="348.14" y="660.81" width="3.8" height="3.8"/><rect x="347.54" y="660.89" width="3.8" height="3.8"/><rect x="346.95" y="660.98" width="3.8" height="3.8"/><rect x="346.36" y="661.06" width="3.8" height="3.8"/><rect x="345.76" y="661.15" width="3.8" height="3.8"/><rect x="345.17" y="661.23" width="3.8" height="3.8"/><rect x="344.57" y="661.32" width="3.8" height="3.8"/><rect x="343.98" y="661.4" width="3.8" height="3.8"/><rect x="343.39" y="661.49" width="3.8" height="3.8"/><rect x="342.79" y="661.57" width="3.8" height="3.8"/><rect x="342.2" y="661.66" width="3.8" height="3.8"/><rect x="341.6" y="661.74" width="3.8" height="3.8"/><rect x="341.01" y="661.83" width="3.8" height="3.8"/><rect x="340.42" y="661.91" width="3.8" height="3.8"/><rect x="339.82" y="662" width="3.8" height="3.8"/><rect x="339.23" y="662.08" width="3.8" height="3.8"/><rect x="338.63" y="662.17" width="3.8" height="3.8"/><rect x="338.04" y="662.25" width="3.8" height="3.8"/><rect x="337.45" y="662.34" width="3.8" height="3.8"/><rect x="336.85" y="662.42" width="3.8" height="3.8"/><rect x="336.26" y="662.51" width="3.8" height="3.8"/><rect x="335.66" y="662.59" width="3.8" height="3.8"/><rect x="335.07" y="662.68" width="3.8" height="3.8"/><rect x="334.48" y="662.76" width="3.8" height="3.8"/><rect x="333.88" y="662.85" width="3.8" height="3.8"/><rect x="333.29" y="662.93" width="3.8" height="3.8"/><rect x="332.69" y="663.02" width="3.8" height="3.8"/><rect x="332.1" y="663.1" width="3.8" height="3.8"/></g>
<polyline fill="none" stroke="#f8645e" stroke-width="0.9" points="340.9,712.5 342.5,717 345,719 349,718 352,722 353.9,710.5 358,715.3 364,719 370,723.9 375,724.8 378,722.9 379,716.2 387,720 393,722.9 397,725.8 400,728 403,723.9 405.6,721.4 410,726.7 415,728.6 420,731.5 426,732.5 430,736.3 435,740.1 444,742 450,745 460,748 472,748 490,750 510,752.4 534,753"/>
<line x1="340.9" y1="662.9" x2="340.9" y2="712.7" stroke="#f8645e" stroke-width="0.9"/>
<g fill="#fff" stroke="#f8645e" stroke-width="1.1"><circle cx="529.99" cy="752.9" r="2.1"/><circle cx="525.79" cy="752.79" r="2.1"/><circle cx="521.6" cy="752.69" r="2.1"/><circle cx="517.4" cy="752.58" r="2.1"/><circle cx="513.2" cy="752.48" r="2.1"/><circle cx="509.01" cy="752.28" r="2.1"/><circle cx="504.84" cy="751.78" r="2.1"/><circle cx="500.67" cy="751.28" r="2.1"/><circle cx="496.5" cy="750.78" r="2.1"/><circle cx="492.33" cy="750.28" r="2.1"/><circle cx="488.15" cy="749.79" r="2.1"/><circle cx="483.98" cy="749.33" r="2.1"/><circle cx="479.81" cy="748.87" r="2.1"/><circle cx="475.63" cy="748.4" r="2.1"/><circle cx="471.45" cy="748" r="2.1"/><circle cx="467.25" cy="748" r="2.1"/><circle cx="463.05" cy="748" r="2.1"/><circle cx="458.9" cy="747.67" r="2.1"/><circle cx="454.88" cy="746.46" r="2.1"/><circle cx="450.86" cy="745.26" r="2.1"/><circle cx="447.04" cy="743.52" r="2.1"/><circle cx="443.22" cy="741.84" r="2.1"/><circle cx="439.11" cy="740.97" r="2.1"/><circle cx="435" cy="740.1" r="2.1"/><circle cx="433.12" cy="738.11" r="2.1"/><circle cx="431.65" cy="736.97" r="2.1"/><circle cx="429.97" cy="736.71" r="2.1"/><circle cx="428.23" cy="735.18" r="2.1"/><circle cx="426.47" cy="733.27" r="2.1"/><circle cx="424.56" cy="733.14" r="2.1"/><circle cx="422.68" cy="731.06" r="2.1"/><circle cx="420.16" cy="731.83" r="2.1"/><circle cx="418.27" cy="729.81" r="2.1"/><circle cx="416.24" cy="729.78" r="2.1"/><circle cx="414.7" cy="727.76" r="2.1"/><circle cx="412.96" cy="726.97" r="2.1"/><circle cx="410.19" cy="726.72" r="2.1"/><circle cx="408.83" cy="725.21" r="2.1"/><circle cx="407.87" cy="724.17" r="2.1"/><circle cx="406.45" cy="721.97" r="2.1"/><circle cx="404.75" cy="723.01" r="2.1"/><circle cx="402.84" cy="724.47" r="2.1"/><circle cx="401.88" cy="724.9" r="2.1"/><circle cx="400.42" cy="727.86" r="2.1"/><circle cx="399" cy="726.28" r="2.1"/><circle cx="397.04" cy="725.22" r="2.1"/><circle cx="395.44" cy="724.34" r="2.1"/><circle cx="393.67" cy="723.45" r="2.1"/><circle cx="391.38" cy="721.61" r="2.1"/><circle cx="389.81" cy="721.22" r="2.1"/><circle cx="387.54" cy="719.81" r="2.1"/><circle cx="385.96" cy="719.1" r="2.1"/><circle cx="383.9" cy="718.5" r="2.1"/><circle cx="381.84" cy="717.88" r="2.1"/><circle cx="380" cy="715.93" r="2.1"/><circle cx="378.65" cy="717.98" r="2.1"/><circle cx="378.15" cy="719.63" r="2.1"/><circle cx="377.97" cy="722.64" r="2.1"/><circle cx="377.26" cy="722.85" r="2.1"/><circle cx="374.89" cy="724.96" r="2.1"/><circle cx="373.24" cy="723.58" r="2.1"/><circle cx="370.97" cy="724.78" r="2.1"/><circle cx="369.24" cy="722.93" r="2.1"/><circle cx="367.48" cy="721.04" r="2.1"/><circle cx="365.1" cy="720.47" r="2.1"/><circle cx="363.47" cy="718" r="2.1"/><circle cx="361.48" cy="716.94" r="2.1"/><circle cx="360.06" cy="715.63" r="2.1"/><circle cx="358.26" cy="716.21" r="2.1"/><circle cx="356.53" cy="713" r="2.1"/><circle cx="355.48" cy="712.29" r="2.1"/><circle cx="353.67" cy="710.23" r="2.1"/><circle cx="353.86" cy="712.47" r="2.1"/><circle cx="353.39" cy="714.93" r="2.1"/><circle cx="352.98" cy="716.76" r="2.1"/><circle cx="352.14" cy="718.53" r="2.1"/><circle cx="352.18" cy="721.23" r="2.1"/><circle cx="350.96" cy="720.04" r="2.1"/><circle cx="349.43" cy="718.15" r="2.1"/><circle cx="347.55" cy="719.1" r="2.1"/><circle cx="345.72" cy="718.61" r="2.1"/><circle cx="344.09" cy="717.33" r="2.1"/><circle cx="342.33" cy="716.48" r="2.1"/><circle cx="341.28" cy="713.71" r="2.1"/><circle cx="340.63" cy="712.48" r="2.1"/></g>
<g fill="#f8645e" stroke="#f8645e" stroke-width="1.2"><circle cx="342.4" cy="662.9" r="2.4"/><circle cx="341.8" cy="662.9" r="2.4"/><circle cx="341.2" cy="662.9" r="2.4"/><circle cx="340.6" cy="662.9" r="2.4"/><circle cx="340" cy="662.9" r="2.4"/><circle cx="339.4" cy="662.9" r="2.4"/><circle cx="338.8" cy="662.9" r="2.4"/><circle cx="338.2" cy="662.9" r="2.4"/><circle cx="337.6" cy="662.9" r="2.4"/><circle cx="337" cy="662.9" r="2.4"/><circle cx="336.4" cy="662.9" r="2.4"/><circle cx="335.8" cy="662.9" r="2.4"/><circle cx="335.2" cy="662.9" r="2.4"/><circle cx="334.6" cy="662.9" r="2.4"/><circle cx="334" cy="662.9" r="2.4"/></g>
<line x1="352.5" y1="653.6" x2="405.4" y2="674" stroke="#000" stroke-width="2.2"/>
<line x1="354.8" y1="711.5" x2="468" y2="753" stroke="#000" stroke-width="2.2"/>
<line x1="433" y1="724" x2="512" y2="737" stroke="#000" stroke-width="2.2"/>
</g>
<rect x="333.2" y="616" width="202.8" height="175" fill="none" stroke="#000" stroke-width="1.3"/>
</svg></body></html>
